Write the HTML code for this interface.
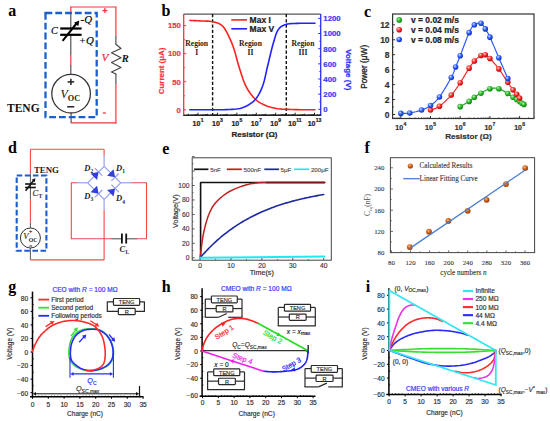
<!DOCTYPE html>
<html><head><meta charset="utf-8"><style>
html,body{margin:0;padding:0;background:#fff;width:550px;height:421px;overflow:hidden;}
svg{display:block;}
</style></head><body>
<svg width="550" height="421" viewBox="0 0 550 421">
<defs>
<radialGradient id="gG" cx="0.38" cy="0.35" r="0.7"><stop offset="0" stop-color="#b8f0b0"/><stop offset="0.45" stop-color="#2dbb2d"/><stop offset="1" stop-color="#0c7a0c"/></radialGradient>
<radialGradient id="gR" cx="0.38" cy="0.35" r="0.7"><stop offset="0" stop-color="#ffd0d0"/><stop offset="0.45" stop-color="#ff3030"/><stop offset="1" stop-color="#b00000"/></radialGradient>
<radialGradient id="gB" cx="0.38" cy="0.35" r="0.7"><stop offset="0" stop-color="#d0dcff"/><stop offset="0.45" stop-color="#3060ff"/><stop offset="1" stop-color="#0a2bb0"/></radialGradient>
<radialGradient id="gO" cx="0.4" cy="0.35" r="0.7"><stop offset="0" stop-color="#f7c08a"/><stop offset="0.4" stop-color="#d8691c"/><stop offset="1" stop-color="#8a3606"/></radialGradient>
</defs>
<rect x="0" y="0" width="550" height="421" fill="#fff"/>
<text x="8.30" y="16.00" font-family='"Liberation Serif", serif' font-size="16" font-weight="bold" font-style="normal" fill="#000" text-anchor="start" >a</text>
<line x1="70.80" y1="7.00" x2="115.90" y2="7.00" stroke="#f0393b" stroke-width="1.2" />
<line x1="70.80" y1="6.40" x2="70.80" y2="12.00" stroke="#f0393b" stroke-width="1.2" />
<line x1="70.80" y1="12.00" x2="70.80" y2="28.60" stroke="#444" stroke-width="1.1" />
<line x1="70.80" y1="34.30" x2="70.80" y2="55.00" stroke="#444" stroke-width="1.1" />
<line x1="70.80" y1="55.00" x2="70.80" y2="66.00" stroke="#f0393b" stroke-width="1.2" />
<line x1="70.80" y1="65.50" x2="70.80" y2="74.40" stroke="#444" stroke-width="1.1" />
<line x1="115.90" y1="6.40" x2="115.90" y2="35.70" stroke="#f0393b" stroke-width="1.2" />
<line x1="115.90" y1="35.70" x2="115.90" y2="44.20" stroke="#444" stroke-width="1.1" />
<polyline points="115.90,44.20 121.00,48.50 111.50,52.80 121.00,57.80 111.50,62.50 121.00,67.50 111.50,72.00 115.90,74.00" fill="none" stroke="#444" stroke-width="1.2" stroke-linejoin="round" stroke-linecap="round" />
<line x1="115.90" y1="74.00" x2="115.90" y2="84.00" stroke="#444" stroke-width="1.1" />
<line x1="115.90" y1="84.00" x2="115.90" y2="123.40" stroke="#f0393b" stroke-width="1.2" />
<line x1="70.80" y1="122.80" x2="116.50" y2="122.80" stroke="#f0393b" stroke-width="1.2" />
<line x1="71.10" y1="113.00" x2="71.10" y2="122.80" stroke="#444" stroke-width="1.1" />
<rect x="45.50" y="13.00" width="51.20" height="104.10" fill="none" stroke="#1b5fcf" stroke-width="2.3" stroke-dasharray="6.8 3"/>
<line x1="60.20" y1="28.50" x2="81.60" y2="28.50" stroke="#000" stroke-width="2.2" />
<line x1="60.20" y1="34.80" x2="81.60" y2="34.80" stroke="#000" stroke-width="2.2" />
<line x1="62.60" y1="40.80" x2="76.50" y2="23.50" stroke="#000" stroke-width="2.0" />
<polygon points="79.30,20.60 78.35,26.25 73.99,22.74" fill="#000"/>
<text x="51.00" y="33.90" font-family='"Liberation Serif", serif' font-size="10.2" font-weight="normal" font-style="italic" fill="#000" text-anchor="start" stroke="#000" stroke-width="0.18" >C</text>
<text x="80.60" y="23.00" font-family='"Liberation Serif", serif' font-size="10.8" font-weight="normal" font-style="italic" fill="#000" text-anchor="start" stroke="#000" stroke-width="0.18" >-Q</text>
<text x="78.80" y="44.20" font-family='"Liberation Serif", serif' font-size="10.8" font-weight="normal" font-style="italic" fill="#000" text-anchor="start" stroke="#000" stroke-width="0.18" >+Q</text>
<circle cx="71.10" cy="93.70" r="19.30" fill="none" stroke="#333" stroke-width="1.25" />
<line x1="67.60" y1="81.90" x2="74.20" y2="81.90" stroke="#222" stroke-width="1.5" />
<line x1="70.90" y1="78.70" x2="70.90" y2="85.10" stroke="#222" stroke-width="1.5" />
<line x1="67.20" y1="106.80" x2="74.30" y2="106.80" stroke="#222" stroke-width="1.5" />
<text x="60.60" y="97.50" font-family='"Liberation Serif", serif' font-size="12.0" font-weight="normal" font-style="italic" fill="#222" text-anchor="start" stroke="#222" stroke-width="0.12" >V</text>
<text x="67.80" y="100.70" font-family='"Liberation Serif", serif' font-size="8.2" font-weight="bold" font-style="normal" fill="#222" text-anchor="start" >OC</text>
<text x="7.00" y="112.30" font-family='"Liberation Serif", serif' font-size="11.5" font-weight="bold" font-style="normal" fill="#111" text-anchor="start" >TENG</text>
<line x1="102.40" y1="10.60" x2="107.40" y2="10.60" stroke="#f0393b" stroke-width="1.3" />
<line x1="104.90" y1="8.10" x2="104.90" y2="13.10" stroke="#f0393b" stroke-width="1.3" />
<line x1="102.80" y1="113.00" x2="105.90" y2="113.00" stroke="#f0393b" stroke-width="1.3" />
<text x="101.40" y="61.30" font-family='"Liberation Serif", serif' font-size="11.3" font-weight="normal" font-style="italic" fill="#f0393b" text-anchor="start" stroke="#f0393b" stroke-width="0.25" >V</text>
<text x="121.80" y="62.30" font-family='"Liberation Serif", serif' font-size="10.5" font-weight="bold" font-style="italic" fill="#111" text-anchor="start" >R</text>
<text x="161.40" y="16.00" font-family='"Liberation Serif", serif' font-size="16" font-weight="bold" font-style="normal" fill="#000" text-anchor="start" >b</text>
<line x1="183.70" y1="14.10" x2="320.70" y2="14.10" stroke="#555" stroke-width="1.2" />
<line x1="183.10" y1="115.20" x2="321.30" y2="115.20" stroke="#222" stroke-width="1.4" />
<line x1="183.70" y1="14.10" x2="183.70" y2="115.20" stroke="#f0393b" stroke-width="1.3" />
<line x1="320.70" y1="14.10" x2="320.70" y2="115.20" stroke="#2d2dff" stroke-width="1.3" />
<line x1="183.70" y1="109.80" x2="186.20" y2="109.80" stroke="#f0393b" stroke-width="1" />
<text x="180.90" y="112.60" font-family='"Liberation Sans", sans-serif' font-size="7.8" font-weight="bold" font-style="normal" fill="#f0393b" text-anchor="end" stroke="#f0393b" stroke-width="0.22" >0</text>
<line x1="183.70" y1="81.73" x2="186.20" y2="81.73" stroke="#f0393b" stroke-width="1" />
<text x="180.90" y="84.53" font-family='"Liberation Sans", sans-serif' font-size="7.8" font-weight="bold" font-style="normal" fill="#f0393b" text-anchor="end" stroke="#f0393b" stroke-width="0.22" >50</text>
<line x1="183.70" y1="53.67" x2="186.20" y2="53.67" stroke="#f0393b" stroke-width="1" />
<text x="180.90" y="56.47" font-family='"Liberation Sans", sans-serif' font-size="7.8" font-weight="bold" font-style="normal" fill="#f0393b" text-anchor="end" stroke="#f0393b" stroke-width="0.22" >100</text>
<line x1="183.70" y1="25.60" x2="186.20" y2="25.60" stroke="#f0393b" stroke-width="1" />
<text x="180.90" y="28.40" font-family='"Liberation Sans", sans-serif' font-size="7.8" font-weight="bold" font-style="normal" fill="#f0393b" text-anchor="end" stroke="#f0393b" stroke-width="0.22" >150</text>
<line x1="183.70" y1="95.77" x2="185.20" y2="95.77" stroke="#f0393b" stroke-width="0.8" />
<line x1="183.70" y1="67.70" x2="185.20" y2="67.70" stroke="#f0393b" stroke-width="0.8" />
<line x1="183.70" y1="39.64" x2="185.20" y2="39.64" stroke="#f0393b" stroke-width="0.8" />
<line x1="318.20" y1="109.30" x2="320.70" y2="109.30" stroke="#2d2dff" stroke-width="1" />
<text x="323.30" y="112.10" font-family='"Liberation Sans", sans-serif' font-size="7.8" font-weight="bold" font-style="normal" fill="#3a3aff" text-anchor="start" stroke="#3a3aff" stroke-width="0.22" >0</text>
<line x1="318.20" y1="94.15" x2="320.70" y2="94.15" stroke="#2d2dff" stroke-width="1" />
<text x="323.30" y="96.95" font-family='"Liberation Sans", sans-serif' font-size="7.8" font-weight="bold" font-style="normal" fill="#3a3aff" text-anchor="start" stroke="#3a3aff" stroke-width="0.22" >200</text>
<line x1="318.20" y1="79.00" x2="320.70" y2="79.00" stroke="#2d2dff" stroke-width="1" />
<text x="323.30" y="81.80" font-family='"Liberation Sans", sans-serif' font-size="7.8" font-weight="bold" font-style="normal" fill="#3a3aff" text-anchor="start" stroke="#3a3aff" stroke-width="0.22" >400</text>
<line x1="318.20" y1="63.85" x2="320.70" y2="63.85" stroke="#2d2dff" stroke-width="1" />
<text x="323.30" y="66.65" font-family='"Liberation Sans", sans-serif' font-size="7.8" font-weight="bold" font-style="normal" fill="#3a3aff" text-anchor="start" stroke="#3a3aff" stroke-width="0.22" >600</text>
<line x1="318.20" y1="48.70" x2="320.70" y2="48.70" stroke="#2d2dff" stroke-width="1" />
<text x="323.30" y="51.50" font-family='"Liberation Sans", sans-serif' font-size="7.8" font-weight="bold" font-style="normal" fill="#3a3aff" text-anchor="start" stroke="#3a3aff" stroke-width="0.22" >800</text>
<line x1="318.20" y1="33.55" x2="320.70" y2="33.55" stroke="#2d2dff" stroke-width="1" />
<text x="323.30" y="36.35" font-family='"Liberation Sans", sans-serif' font-size="7.8" font-weight="bold" font-style="normal" fill="#3a3aff" text-anchor="start" stroke="#3a3aff" stroke-width="0.22" >1000</text>
<line x1="318.20" y1="18.40" x2="320.70" y2="18.40" stroke="#2d2dff" stroke-width="1" />
<text x="323.30" y="21.20" font-family='"Liberation Sans", sans-serif' font-size="7.8" font-weight="bold" font-style="normal" fill="#3a3aff" text-anchor="start" stroke="#3a3aff" stroke-width="0.22" >1200</text>
<line x1="319.20" y1="101.72" x2="320.70" y2="101.72" stroke="#2d2dff" stroke-width="0.8" />
<line x1="319.20" y1="86.58" x2="320.70" y2="86.58" stroke="#2d2dff" stroke-width="0.8" />
<line x1="319.20" y1="71.42" x2="320.70" y2="71.42" stroke="#2d2dff" stroke-width="0.8" />
<line x1="319.20" y1="56.27" x2="320.70" y2="56.27" stroke="#2d2dff" stroke-width="0.8" />
<line x1="319.20" y1="41.12" x2="320.70" y2="41.12" stroke="#2d2dff" stroke-width="0.8" />
<line x1="319.20" y1="25.97" x2="320.70" y2="25.97" stroke="#2d2dff" stroke-width="0.8" />
<line x1="188.30" y1="115.20" x2="188.30" y2="113.70" stroke="#222" stroke-width="1" />
<line x1="191.22" y1="115.20" x2="191.22" y2="114.00" stroke="#222" stroke-width="0.6" />
<line x1="192.93" y1="115.20" x2="192.93" y2="114.00" stroke="#222" stroke-width="0.6" />
<line x1="194.15" y1="115.20" x2="194.15" y2="114.00" stroke="#222" stroke-width="0.6" />
<line x1="195.09" y1="115.20" x2="195.09" y2="114.00" stroke="#222" stroke-width="0.6" />
<line x1="195.86" y1="115.20" x2="195.86" y2="114.00" stroke="#222" stroke-width="0.6" />
<line x1="196.51" y1="115.20" x2="196.51" y2="114.00" stroke="#222" stroke-width="0.6" />
<line x1="197.07" y1="115.20" x2="197.07" y2="114.00" stroke="#222" stroke-width="0.6" />
<line x1="197.57" y1="115.20" x2="197.57" y2="114.00" stroke="#222" stroke-width="0.6" />
<line x1="198.01" y1="115.20" x2="198.01" y2="112.70" stroke="#222" stroke-width="1" />
<line x1="200.93" y1="115.20" x2="200.93" y2="114.00" stroke="#222" stroke-width="0.6" />
<line x1="202.64" y1="115.20" x2="202.64" y2="114.00" stroke="#222" stroke-width="0.6" />
<line x1="203.86" y1="115.20" x2="203.86" y2="114.00" stroke="#222" stroke-width="0.6" />
<line x1="204.80" y1="115.20" x2="204.80" y2="114.00" stroke="#222" stroke-width="0.6" />
<line x1="205.57" y1="115.20" x2="205.57" y2="114.00" stroke="#222" stroke-width="0.6" />
<line x1="206.22" y1="115.20" x2="206.22" y2="114.00" stroke="#222" stroke-width="0.6" />
<line x1="206.78" y1="115.20" x2="206.78" y2="114.00" stroke="#222" stroke-width="0.6" />
<line x1="207.28" y1="115.20" x2="207.28" y2="114.00" stroke="#222" stroke-width="0.6" />
<line x1="207.72" y1="115.20" x2="207.72" y2="113.70" stroke="#222" stroke-width="1" />
<line x1="210.64" y1="115.20" x2="210.64" y2="114.00" stroke="#222" stroke-width="0.6" />
<line x1="212.35" y1="115.20" x2="212.35" y2="114.00" stroke="#222" stroke-width="0.6" />
<line x1="213.57" y1="115.20" x2="213.57" y2="114.00" stroke="#222" stroke-width="0.6" />
<line x1="214.51" y1="115.20" x2="214.51" y2="114.00" stroke="#222" stroke-width="0.6" />
<line x1="215.28" y1="115.20" x2="215.28" y2="114.00" stroke="#222" stroke-width="0.6" />
<line x1="215.93" y1="115.20" x2="215.93" y2="114.00" stroke="#222" stroke-width="0.6" />
<line x1="216.49" y1="115.20" x2="216.49" y2="114.00" stroke="#222" stroke-width="0.6" />
<line x1="216.99" y1="115.20" x2="216.99" y2="114.00" stroke="#222" stroke-width="0.6" />
<line x1="217.43" y1="115.20" x2="217.43" y2="112.70" stroke="#222" stroke-width="1" />
<line x1="220.35" y1="115.20" x2="220.35" y2="114.00" stroke="#222" stroke-width="0.6" />
<line x1="222.06" y1="115.20" x2="222.06" y2="114.00" stroke="#222" stroke-width="0.6" />
<line x1="223.28" y1="115.20" x2="223.28" y2="114.00" stroke="#222" stroke-width="0.6" />
<line x1="224.22" y1="115.20" x2="224.22" y2="114.00" stroke="#222" stroke-width="0.6" />
<line x1="224.99" y1="115.20" x2="224.99" y2="114.00" stroke="#222" stroke-width="0.6" />
<line x1="225.64" y1="115.20" x2="225.64" y2="114.00" stroke="#222" stroke-width="0.6" />
<line x1="226.20" y1="115.20" x2="226.20" y2="114.00" stroke="#222" stroke-width="0.6" />
<line x1="226.70" y1="115.20" x2="226.70" y2="114.00" stroke="#222" stroke-width="0.6" />
<line x1="227.14" y1="115.20" x2="227.14" y2="113.70" stroke="#222" stroke-width="1" />
<line x1="230.06" y1="115.20" x2="230.06" y2="114.00" stroke="#222" stroke-width="0.6" />
<line x1="231.77" y1="115.20" x2="231.77" y2="114.00" stroke="#222" stroke-width="0.6" />
<line x1="232.99" y1="115.20" x2="232.99" y2="114.00" stroke="#222" stroke-width="0.6" />
<line x1="233.93" y1="115.20" x2="233.93" y2="114.00" stroke="#222" stroke-width="0.6" />
<line x1="234.70" y1="115.20" x2="234.70" y2="114.00" stroke="#222" stroke-width="0.6" />
<line x1="235.35" y1="115.20" x2="235.35" y2="114.00" stroke="#222" stroke-width="0.6" />
<line x1="235.91" y1="115.20" x2="235.91" y2="114.00" stroke="#222" stroke-width="0.6" />
<line x1="236.41" y1="115.20" x2="236.41" y2="114.00" stroke="#222" stroke-width="0.6" />
<line x1="236.85" y1="115.20" x2="236.85" y2="112.70" stroke="#222" stroke-width="1" />
<line x1="239.77" y1="115.20" x2="239.77" y2="114.00" stroke="#222" stroke-width="0.6" />
<line x1="241.48" y1="115.20" x2="241.48" y2="114.00" stroke="#222" stroke-width="0.6" />
<line x1="242.70" y1="115.20" x2="242.70" y2="114.00" stroke="#222" stroke-width="0.6" />
<line x1="243.64" y1="115.20" x2="243.64" y2="114.00" stroke="#222" stroke-width="0.6" />
<line x1="244.41" y1="115.20" x2="244.41" y2="114.00" stroke="#222" stroke-width="0.6" />
<line x1="245.06" y1="115.20" x2="245.06" y2="114.00" stroke="#222" stroke-width="0.6" />
<line x1="245.62" y1="115.20" x2="245.62" y2="114.00" stroke="#222" stroke-width="0.6" />
<line x1="246.12" y1="115.20" x2="246.12" y2="114.00" stroke="#222" stroke-width="0.6" />
<line x1="246.56" y1="115.20" x2="246.56" y2="113.70" stroke="#222" stroke-width="1" />
<line x1="249.48" y1="115.20" x2="249.48" y2="114.00" stroke="#222" stroke-width="0.6" />
<line x1="251.19" y1="115.20" x2="251.19" y2="114.00" stroke="#222" stroke-width="0.6" />
<line x1="252.41" y1="115.20" x2="252.41" y2="114.00" stroke="#222" stroke-width="0.6" />
<line x1="253.35" y1="115.20" x2="253.35" y2="114.00" stroke="#222" stroke-width="0.6" />
<line x1="254.12" y1="115.20" x2="254.12" y2="114.00" stroke="#222" stroke-width="0.6" />
<line x1="254.77" y1="115.20" x2="254.77" y2="114.00" stroke="#222" stroke-width="0.6" />
<line x1="255.33" y1="115.20" x2="255.33" y2="114.00" stroke="#222" stroke-width="0.6" />
<line x1="255.83" y1="115.20" x2="255.83" y2="114.00" stroke="#222" stroke-width="0.6" />
<line x1="256.27" y1="115.20" x2="256.27" y2="112.70" stroke="#222" stroke-width="1" />
<line x1="259.19" y1="115.20" x2="259.19" y2="114.00" stroke="#222" stroke-width="0.6" />
<line x1="260.90" y1="115.20" x2="260.90" y2="114.00" stroke="#222" stroke-width="0.6" />
<line x1="262.12" y1="115.20" x2="262.12" y2="114.00" stroke="#222" stroke-width="0.6" />
<line x1="263.06" y1="115.20" x2="263.06" y2="114.00" stroke="#222" stroke-width="0.6" />
<line x1="263.83" y1="115.20" x2="263.83" y2="114.00" stroke="#222" stroke-width="0.6" />
<line x1="264.48" y1="115.20" x2="264.48" y2="114.00" stroke="#222" stroke-width="0.6" />
<line x1="265.04" y1="115.20" x2="265.04" y2="114.00" stroke="#222" stroke-width="0.6" />
<line x1="265.54" y1="115.20" x2="265.54" y2="114.00" stroke="#222" stroke-width="0.6" />
<line x1="265.98" y1="115.20" x2="265.98" y2="113.70" stroke="#222" stroke-width="1" />
<line x1="268.90" y1="115.20" x2="268.90" y2="114.00" stroke="#222" stroke-width="0.6" />
<line x1="270.61" y1="115.20" x2="270.61" y2="114.00" stroke="#222" stroke-width="0.6" />
<line x1="271.83" y1="115.20" x2="271.83" y2="114.00" stroke="#222" stroke-width="0.6" />
<line x1="272.77" y1="115.20" x2="272.77" y2="114.00" stroke="#222" stroke-width="0.6" />
<line x1="273.54" y1="115.20" x2="273.54" y2="114.00" stroke="#222" stroke-width="0.6" />
<line x1="274.19" y1="115.20" x2="274.19" y2="114.00" stroke="#222" stroke-width="0.6" />
<line x1="274.75" y1="115.20" x2="274.75" y2="114.00" stroke="#222" stroke-width="0.6" />
<line x1="275.25" y1="115.20" x2="275.25" y2="114.00" stroke="#222" stroke-width="0.6" />
<line x1="275.69" y1="115.20" x2="275.69" y2="112.70" stroke="#222" stroke-width="1" />
<line x1="278.61" y1="115.20" x2="278.61" y2="114.00" stroke="#222" stroke-width="0.6" />
<line x1="280.32" y1="115.20" x2="280.32" y2="114.00" stroke="#222" stroke-width="0.6" />
<line x1="281.54" y1="115.20" x2="281.54" y2="114.00" stroke="#222" stroke-width="0.6" />
<line x1="282.48" y1="115.20" x2="282.48" y2="114.00" stroke="#222" stroke-width="0.6" />
<line x1="283.25" y1="115.20" x2="283.25" y2="114.00" stroke="#222" stroke-width="0.6" />
<line x1="283.90" y1="115.20" x2="283.90" y2="114.00" stroke="#222" stroke-width="0.6" />
<line x1="284.46" y1="115.20" x2="284.46" y2="114.00" stroke="#222" stroke-width="0.6" />
<line x1="284.96" y1="115.20" x2="284.96" y2="114.00" stroke="#222" stroke-width="0.6" />
<line x1="285.40" y1="115.20" x2="285.40" y2="113.70" stroke="#222" stroke-width="1" />
<line x1="288.32" y1="115.20" x2="288.32" y2="114.00" stroke="#222" stroke-width="0.6" />
<line x1="290.03" y1="115.20" x2="290.03" y2="114.00" stroke="#222" stroke-width="0.6" />
<line x1="291.25" y1="115.20" x2="291.25" y2="114.00" stroke="#222" stroke-width="0.6" />
<line x1="292.19" y1="115.20" x2="292.19" y2="114.00" stroke="#222" stroke-width="0.6" />
<line x1="292.96" y1="115.20" x2="292.96" y2="114.00" stroke="#222" stroke-width="0.6" />
<line x1="293.61" y1="115.20" x2="293.61" y2="114.00" stroke="#222" stroke-width="0.6" />
<line x1="294.17" y1="115.20" x2="294.17" y2="114.00" stroke="#222" stroke-width="0.6" />
<line x1="294.67" y1="115.20" x2="294.67" y2="114.00" stroke="#222" stroke-width="0.6" />
<line x1="295.11" y1="115.20" x2="295.11" y2="112.70" stroke="#222" stroke-width="1" />
<line x1="298.03" y1="115.20" x2="298.03" y2="114.00" stroke="#222" stroke-width="0.6" />
<line x1="299.74" y1="115.20" x2="299.74" y2="114.00" stroke="#222" stroke-width="0.6" />
<line x1="300.96" y1="115.20" x2="300.96" y2="114.00" stroke="#222" stroke-width="0.6" />
<line x1="301.90" y1="115.20" x2="301.90" y2="114.00" stroke="#222" stroke-width="0.6" />
<line x1="302.67" y1="115.20" x2="302.67" y2="114.00" stroke="#222" stroke-width="0.6" />
<line x1="303.32" y1="115.20" x2="303.32" y2="114.00" stroke="#222" stroke-width="0.6" />
<line x1="303.88" y1="115.20" x2="303.88" y2="114.00" stroke="#222" stroke-width="0.6" />
<line x1="304.38" y1="115.20" x2="304.38" y2="114.00" stroke="#222" stroke-width="0.6" />
<line x1="304.82" y1="115.20" x2="304.82" y2="113.70" stroke="#222" stroke-width="1" />
<line x1="307.74" y1="115.20" x2="307.74" y2="114.00" stroke="#222" stroke-width="0.6" />
<line x1="309.45" y1="115.20" x2="309.45" y2="114.00" stroke="#222" stroke-width="0.6" />
<line x1="310.67" y1="115.20" x2="310.67" y2="114.00" stroke="#222" stroke-width="0.6" />
<line x1="311.61" y1="115.20" x2="311.61" y2="114.00" stroke="#222" stroke-width="0.6" />
<line x1="312.38" y1="115.20" x2="312.38" y2="114.00" stroke="#222" stroke-width="0.6" />
<line x1="313.03" y1="115.20" x2="313.03" y2="114.00" stroke="#222" stroke-width="0.6" />
<line x1="313.59" y1="115.20" x2="313.59" y2="114.00" stroke="#222" stroke-width="0.6" />
<line x1="314.09" y1="115.20" x2="314.09" y2="114.00" stroke="#222" stroke-width="0.6" />
<line x1="314.53" y1="115.20" x2="314.53" y2="112.70" stroke="#222" stroke-width="1" />
<line x1="317.45" y1="115.20" x2="317.45" y2="114.00" stroke="#222" stroke-width="0.6" />
<line x1="319.16" y1="115.20" x2="319.16" y2="114.00" stroke="#222" stroke-width="0.6" />
<line x1="320.38" y1="115.20" x2="320.38" y2="114.00" stroke="#222" stroke-width="0.6" />
<text x="192.58" y="126.20" font-family='"Liberation Sans", sans-serif' font-size="7.0" font-weight="bold" font-style="normal" fill="#222" text-anchor="start" stroke="#222" stroke-width="0.22" >10</text>
<text x="200.66" y="122.40" font-family='"Liberation Sans", sans-serif' font-size="5.0" font-weight="bold" font-style="normal" fill="#222" text-anchor="start" stroke="#222" stroke-width="0.22" >1</text>
<text x="212.00" y="126.20" font-family='"Liberation Sans", sans-serif' font-size="7.0" font-weight="bold" font-style="normal" fill="#222" text-anchor="start" stroke="#222" stroke-width="0.22" >10</text>
<text x="220.08" y="122.40" font-family='"Liberation Sans", sans-serif' font-size="5.0" font-weight="bold" font-style="normal" fill="#222" text-anchor="start" stroke="#222" stroke-width="0.22" >3</text>
<text x="231.42" y="126.20" font-family='"Liberation Sans", sans-serif' font-size="7.0" font-weight="bold" font-style="normal" fill="#222" text-anchor="start" stroke="#222" stroke-width="0.22" >10</text>
<text x="239.50" y="122.40" font-family='"Liberation Sans", sans-serif' font-size="5.0" font-weight="bold" font-style="normal" fill="#222" text-anchor="start" stroke="#222" stroke-width="0.22" >5</text>
<text x="250.84" y="126.20" font-family='"Liberation Sans", sans-serif' font-size="7.0" font-weight="bold" font-style="normal" fill="#222" text-anchor="start" stroke="#222" stroke-width="0.22" >10</text>
<text x="258.92" y="122.40" font-family='"Liberation Sans", sans-serif' font-size="5.0" font-weight="bold" font-style="normal" fill="#222" text-anchor="start" stroke="#222" stroke-width="0.22" >7</text>
<text x="270.26" y="126.20" font-family='"Liberation Sans", sans-serif' font-size="7.0" font-weight="bold" font-style="normal" fill="#222" text-anchor="start" stroke="#222" stroke-width="0.22" >10</text>
<text x="278.34" y="122.40" font-family='"Liberation Sans", sans-serif' font-size="5.0" font-weight="bold" font-style="normal" fill="#222" text-anchor="start" stroke="#222" stroke-width="0.22" >9</text>
<text x="288.29" y="126.20" font-family='"Liberation Sans", sans-serif' font-size="7.0" font-weight="bold" font-style="normal" fill="#222" text-anchor="start" stroke="#222" stroke-width="0.22" >10</text>
<text x="296.37" y="122.40" font-family='"Liberation Sans", sans-serif' font-size="5.0" font-weight="bold" font-style="normal" fill="#222" text-anchor="start" stroke="#222" stroke-width="0.22" >11</text>
<text x="307.71" y="126.20" font-family='"Liberation Sans", sans-serif' font-size="7.0" font-weight="bold" font-style="normal" fill="#222" text-anchor="start" stroke="#222" stroke-width="0.22" >10</text>
<text x="315.79" y="122.40" font-family='"Liberation Sans", sans-serif' font-size="5.0" font-weight="bold" font-style="normal" fill="#222" text-anchor="start" stroke="#222" stroke-width="0.22" >13</text>
<text x="254.50" y="136.60" font-family='"Liberation Sans", sans-serif' font-size="8.0" font-weight="bold" font-style="normal" fill="#222" text-anchor="middle" stroke="#222" stroke-width="0.22" >Resistor (Ω)</text>
<text x="163.80" y="70.90" font-family='"Liberation Sans", sans-serif' font-size="7.9" font-weight="bold" font-style="normal" fill="#f0393b" text-anchor="middle" transform="rotate(-90 163.8 70.9)" stroke="#f0393b" stroke-width="0.22" >Current (μA)</text>
<text x="346.40" y="69.80" font-family='"Liberation Sans", sans-serif' font-size="8.0" font-weight="bold" font-style="normal" fill="#3030ff" text-anchor="middle" transform="rotate(90 346.4 69.8)" stroke="#3030ff" stroke-width="0.22" >Voltage (V)</text>
<line x1="212.60" y1="14.10" x2="212.60" y2="115.20" stroke="#111" stroke-width="1.4" stroke-dasharray="3.2 2"/>
<line x1="286.30" y1="14.10" x2="286.30" y2="115.20" stroke="#111" stroke-width="1.4" stroke-dasharray="3.2 2"/>
<polyline points="190.00,20.40 190.75,20.44 191.74,20.48 192.91,20.54 194.22,20.60 195.63,20.67 197.09,20.74 198.56,20.82 200.00,20.90 201.46,20.96 203.01,21.00 204.63,21.04 206.27,21.08 207.91,21.15 209.51,21.27 211.05,21.44 212.50,21.70 213.87,22.00 215.20,22.32 216.48,22.68 217.72,23.10 218.92,23.59 220.07,24.17 221.16,24.87 222.20,25.70 223.17,26.68 224.08,27.79 224.92,29.01 225.72,30.33 226.49,31.72 227.23,33.16 227.97,34.63 228.70,36.10 229.42,37.57 230.11,39.07 230.78,40.59 231.43,42.16 232.07,43.80 232.71,45.50 233.35,47.30 234.00,49.20 234.65,51.23 235.28,53.39 235.90,55.65 236.53,57.98 237.16,60.34 237.81,62.72 238.49,65.09 239.20,67.40 239.93,69.72 240.67,72.09 241.43,74.48 242.21,76.87 243.01,79.21 243.86,81.49 244.75,83.66 245.70,85.70 246.70,87.63 247.76,89.50 248.86,91.28 250.00,92.99 251.17,94.60 252.37,96.11 253.58,97.51 254.80,98.80 256.03,99.95 257.27,100.96 258.53,101.86 259.81,102.66 261.12,103.38 262.47,104.05 263.86,104.68 265.30,105.30 266.78,105.89 268.29,106.43 269.83,106.91 271.41,107.35 273.04,107.74 274.73,108.10 276.48,108.42 278.30,108.70 280.19,108.94 282.14,109.12 284.15,109.25 286.21,109.35 288.33,109.42 290.51,109.48 292.73,109.54 295.00,109.60 297.48,109.66 300.24,109.70 303.14,109.74 306.04,109.76 308.82,109.77 311.33,109.78 313.43,109.79 315.00,109.80" fill="none" stroke="#ff2020" stroke-width="1.6" stroke-linejoin="round" stroke-linecap="round" />
<polyline points="189.80,109.80 191.39,109.80 193.53,109.80 196.08,109.81 198.90,109.81 201.84,109.81 204.77,109.81 207.54,109.81 210.00,109.80 212.20,109.79 214.30,109.80 216.32,109.81 218.28,109.81 220.20,109.79 222.11,109.76 224.04,109.70 226.00,109.60 228.00,109.50 230.03,109.43 232.06,109.34 234.09,109.23 236.09,109.06 238.05,108.80 239.96,108.42 241.80,107.90 243.59,107.25 245.37,106.51 247.10,105.67 248.79,104.74 250.42,103.70 251.97,102.57 253.44,101.34 254.80,100.00 256.05,98.56 257.20,97.03 258.25,95.40 259.24,93.66 260.16,91.83 261.03,89.89 261.88,87.85 262.70,85.70 263.48,83.40 264.19,80.94 264.85,78.34 265.47,75.66 266.07,72.92 266.66,70.17 267.27,67.45 267.90,64.80 268.55,62.15 269.20,59.44 269.85,56.71 270.50,53.99 271.15,51.33 271.80,48.75 272.45,46.29 273.10,44.00 273.73,41.83 274.34,39.73 274.93,37.73 275.53,35.83 276.15,34.04 276.81,32.40 277.52,30.92 278.30,29.60 279.12,28.48 279.95,27.56 280.81,26.80 281.71,26.17 282.69,25.65 283.75,25.20 284.91,24.79 286.20,24.40 287.63,24.06 289.21,23.81 290.89,23.64 292.66,23.53 294.48,23.46 296.33,23.41 298.18,23.36 300.00,23.30 301.92,23.24 304.02,23.20 306.20,23.18 308.36,23.18 310.42,23.19 312.28,23.19 313.83,23.20 315.00,23.20" fill="none" stroke="#2222ff" stroke-width="1.6" stroke-linejoin="round" stroke-linecap="round" />
<line x1="231.30" y1="19.90" x2="247.00" y2="19.90" stroke="#ff2020" stroke-width="1.6" />
<text x="249.60" y="23.00" font-family='"Liberation Sans", sans-serif' font-size="8.5" font-weight="bold" font-style="normal" fill="#222" text-anchor="start" stroke="#222" stroke-width="0.22" >Max I</text>
<line x1="231.30" y1="28.80" x2="247.00" y2="28.80" stroke="#2222ff" stroke-width="1.6" />
<text x="249.60" y="31.90" font-family='"Liberation Sans", sans-serif' font-size="8.5" font-weight="bold" font-style="normal" fill="#222" text-anchor="start" stroke="#222" stroke-width="0.22" >Max V</text>
<text x="196.70" y="45.60" font-family='"Liberation Serif", serif' font-size="7.6" font-weight="bold" font-style="normal" fill="#222" text-anchor="middle" >Region</text>
<text x="196.70" y="54.60" font-family='"Liberation Serif", serif' font-size="7.6" font-weight="bold" font-style="normal" fill="#222" text-anchor="middle" >I</text>
<text x="250.50" y="45.60" font-family='"Liberation Serif", serif' font-size="7.6" font-weight="bold" font-style="normal" fill="#222" text-anchor="middle" >Region</text>
<text x="250.50" y="54.60" font-family='"Liberation Serif", serif' font-size="7.6" font-weight="bold" font-style="normal" fill="#222" text-anchor="middle" >II</text>
<text x="303.00" y="45.60" font-family='"Liberation Serif", serif' font-size="7.6" font-weight="bold" font-style="normal" fill="#222" text-anchor="middle" >Region</text>
<text x="303.00" y="54.60" font-family='"Liberation Serif", serif' font-size="7.6" font-weight="bold" font-style="normal" fill="#222" text-anchor="middle" >III</text>
<text x="364.00" y="16.60" font-family='"Liberation Serif", serif' font-size="16" font-weight="bold" font-style="normal" fill="#000" text-anchor="start" >c</text>
<rect x="392.60" y="14.00" width="141.40" height="104.50" fill="none" stroke="#333" stroke-width="1.2" />
<line x1="392.60" y1="114.50" x2="395.10" y2="114.50" stroke="#333" stroke-width="1" />
<text x="389.60" y="117.50" font-family='"Liberation Sans", sans-serif' font-size="8.5" font-weight="bold" font-style="normal" fill="#333" text-anchor="end" stroke="#333" stroke-width="0.22" >0</text>
<line x1="392.60" y1="99.55" x2="395.10" y2="99.55" stroke="#333" stroke-width="1" />
<text x="389.60" y="102.55" font-family='"Liberation Sans", sans-serif' font-size="8.5" font-weight="bold" font-style="normal" fill="#333" text-anchor="end" stroke="#333" stroke-width="0.22" >2</text>
<line x1="392.60" y1="84.60" x2="395.10" y2="84.60" stroke="#333" stroke-width="1" />
<text x="389.60" y="87.60" font-family='"Liberation Sans", sans-serif' font-size="8.5" font-weight="bold" font-style="normal" fill="#333" text-anchor="end" stroke="#333" stroke-width="0.22" >4</text>
<line x1="392.60" y1="69.65" x2="395.10" y2="69.65" stroke="#333" stroke-width="1" />
<text x="389.60" y="72.65" font-family='"Liberation Sans", sans-serif' font-size="8.5" font-weight="bold" font-style="normal" fill="#333" text-anchor="end" stroke="#333" stroke-width="0.22" >6</text>
<line x1="392.60" y1="54.70" x2="395.10" y2="54.70" stroke="#333" stroke-width="1" />
<text x="389.60" y="57.70" font-family='"Liberation Sans", sans-serif' font-size="8.5" font-weight="bold" font-style="normal" fill="#333" text-anchor="end" stroke="#333" stroke-width="0.22" >8</text>
<line x1="392.60" y1="39.75" x2="395.10" y2="39.75" stroke="#333" stroke-width="1" />
<text x="389.60" y="42.75" font-family='"Liberation Sans", sans-serif' font-size="8.5" font-weight="bold" font-style="normal" fill="#333" text-anchor="end" stroke="#333" stroke-width="0.22" >10</text>
<line x1="392.60" y1="24.80" x2="395.10" y2="24.80" stroke="#333" stroke-width="1" />
<text x="389.60" y="27.80" font-family='"Liberation Sans", sans-serif' font-size="8.5" font-weight="bold" font-style="normal" fill="#333" text-anchor="end" stroke="#333" stroke-width="0.22" >12</text>
<line x1="392.60" y1="107.03" x2="394.10" y2="107.03" stroke="#333" stroke-width="0.8" />
<line x1="392.60" y1="92.08" x2="394.10" y2="92.08" stroke="#333" stroke-width="0.8" />
<line x1="392.60" y1="77.12" x2="394.10" y2="77.12" stroke="#333" stroke-width="0.8" />
<line x1="392.60" y1="62.18" x2="394.10" y2="62.18" stroke="#333" stroke-width="0.8" />
<line x1="392.60" y1="47.23" x2="394.10" y2="47.23" stroke="#333" stroke-width="0.8" />
<line x1="392.60" y1="32.28" x2="394.10" y2="32.28" stroke="#333" stroke-width="0.8" />
<line x1="400.80" y1="118.50" x2="400.80" y2="116.00" stroke="#333" stroke-width="1" />
<text x="395.37" y="129.80" font-family='"Liberation Sans", sans-serif' font-size="7.0" font-weight="bold" font-style="normal" fill="#333" text-anchor="start" stroke="#333" stroke-width="0.22" >10</text>
<text x="403.45" y="126.00" font-family='"Liberation Sans", sans-serif' font-size="5.0" font-weight="bold" font-style="normal" fill="#333" text-anchor="start" stroke="#333" stroke-width="0.22" >4</text>
<line x1="430.50" y1="118.50" x2="430.50" y2="116.00" stroke="#333" stroke-width="1" />
<text x="425.07" y="129.80" font-family='"Liberation Sans", sans-serif' font-size="7.0" font-weight="bold" font-style="normal" fill="#333" text-anchor="start" stroke="#333" stroke-width="0.22" >10</text>
<text x="433.15" y="126.00" font-family='"Liberation Sans", sans-serif' font-size="5.0" font-weight="bold" font-style="normal" fill="#333" text-anchor="start" stroke="#333" stroke-width="0.22" >5</text>
<line x1="460.20" y1="118.50" x2="460.20" y2="116.00" stroke="#333" stroke-width="1" />
<text x="454.77" y="129.80" font-family='"Liberation Sans", sans-serif' font-size="7.0" font-weight="bold" font-style="normal" fill="#333" text-anchor="start" stroke="#333" stroke-width="0.22" >10</text>
<text x="462.85" y="126.00" font-family='"Liberation Sans", sans-serif' font-size="5.0" font-weight="bold" font-style="normal" fill="#333" text-anchor="start" stroke="#333" stroke-width="0.22" >6</text>
<line x1="489.90" y1="118.50" x2="489.90" y2="116.00" stroke="#333" stroke-width="1" />
<text x="484.47" y="129.80" font-family='"Liberation Sans", sans-serif' font-size="7.0" font-weight="bold" font-style="normal" fill="#333" text-anchor="start" stroke="#333" stroke-width="0.22" >10</text>
<text x="492.55" y="126.00" font-family='"Liberation Sans", sans-serif' font-size="5.0" font-weight="bold" font-style="normal" fill="#333" text-anchor="start" stroke="#333" stroke-width="0.22" >7</text>
<line x1="519.60" y1="118.50" x2="519.60" y2="116.00" stroke="#333" stroke-width="1" />
<text x="514.17" y="129.80" font-family='"Liberation Sans", sans-serif' font-size="7.0" font-weight="bold" font-style="normal" fill="#333" text-anchor="start" stroke="#333" stroke-width="0.22" >10</text>
<text x="522.25" y="126.00" font-family='"Liberation Sans", sans-serif' font-size="5.0" font-weight="bold" font-style="normal" fill="#333" text-anchor="start" stroke="#333" stroke-width="0.22" >8</text>
<line x1="394.21" y1="118.50" x2="394.21" y2="117.20" stroke="#333" stroke-width="0.6" />
<line x1="396.20" y1="118.50" x2="396.20" y2="117.20" stroke="#333" stroke-width="0.6" />
<line x1="397.92" y1="118.50" x2="397.92" y2="117.20" stroke="#333" stroke-width="0.6" />
<line x1="399.44" y1="118.50" x2="399.44" y2="117.20" stroke="#333" stroke-width="0.6" />
<line x1="409.74" y1="118.50" x2="409.74" y2="117.20" stroke="#333" stroke-width="0.6" />
<line x1="414.97" y1="118.50" x2="414.97" y2="117.20" stroke="#333" stroke-width="0.6" />
<line x1="418.68" y1="118.50" x2="418.68" y2="117.20" stroke="#333" stroke-width="0.6" />
<line x1="421.56" y1="118.50" x2="421.56" y2="117.20" stroke="#333" stroke-width="0.6" />
<line x1="423.91" y1="118.50" x2="423.91" y2="117.20" stroke="#333" stroke-width="0.6" />
<line x1="425.90" y1="118.50" x2="425.90" y2="117.20" stroke="#333" stroke-width="0.6" />
<line x1="427.62" y1="118.50" x2="427.62" y2="117.20" stroke="#333" stroke-width="0.6" />
<line x1="429.14" y1="118.50" x2="429.14" y2="117.20" stroke="#333" stroke-width="0.6" />
<line x1="439.44" y1="118.50" x2="439.44" y2="117.20" stroke="#333" stroke-width="0.6" />
<line x1="444.67" y1="118.50" x2="444.67" y2="117.20" stroke="#333" stroke-width="0.6" />
<line x1="448.38" y1="118.50" x2="448.38" y2="117.20" stroke="#333" stroke-width="0.6" />
<line x1="451.26" y1="118.50" x2="451.26" y2="117.20" stroke="#333" stroke-width="0.6" />
<line x1="453.61" y1="118.50" x2="453.61" y2="117.20" stroke="#333" stroke-width="0.6" />
<line x1="455.60" y1="118.50" x2="455.60" y2="117.20" stroke="#333" stroke-width="0.6" />
<line x1="457.32" y1="118.50" x2="457.32" y2="117.20" stroke="#333" stroke-width="0.6" />
<line x1="458.84" y1="118.50" x2="458.84" y2="117.20" stroke="#333" stroke-width="0.6" />
<line x1="469.14" y1="118.50" x2="469.14" y2="117.20" stroke="#333" stroke-width="0.6" />
<line x1="474.37" y1="118.50" x2="474.37" y2="117.20" stroke="#333" stroke-width="0.6" />
<line x1="478.08" y1="118.50" x2="478.08" y2="117.20" stroke="#333" stroke-width="0.6" />
<line x1="480.96" y1="118.50" x2="480.96" y2="117.20" stroke="#333" stroke-width="0.6" />
<line x1="483.31" y1="118.50" x2="483.31" y2="117.20" stroke="#333" stroke-width="0.6" />
<line x1="485.30" y1="118.50" x2="485.30" y2="117.20" stroke="#333" stroke-width="0.6" />
<line x1="487.02" y1="118.50" x2="487.02" y2="117.20" stroke="#333" stroke-width="0.6" />
<line x1="488.54" y1="118.50" x2="488.54" y2="117.20" stroke="#333" stroke-width="0.6" />
<line x1="498.84" y1="118.50" x2="498.84" y2="117.20" stroke="#333" stroke-width="0.6" />
<line x1="504.07" y1="118.50" x2="504.07" y2="117.20" stroke="#333" stroke-width="0.6" />
<line x1="507.78" y1="118.50" x2="507.78" y2="117.20" stroke="#333" stroke-width="0.6" />
<line x1="510.66" y1="118.50" x2="510.66" y2="117.20" stroke="#333" stroke-width="0.6" />
<line x1="513.01" y1="118.50" x2="513.01" y2="117.20" stroke="#333" stroke-width="0.6" />
<line x1="515.00" y1="118.50" x2="515.00" y2="117.20" stroke="#333" stroke-width="0.6" />
<line x1="516.72" y1="118.50" x2="516.72" y2="117.20" stroke="#333" stroke-width="0.6" />
<line x1="518.24" y1="118.50" x2="518.24" y2="117.20" stroke="#333" stroke-width="0.6" />
<line x1="528.54" y1="118.50" x2="528.54" y2="117.20" stroke="#333" stroke-width="0.6" />
<line x1="533.77" y1="118.50" x2="533.77" y2="117.20" stroke="#333" stroke-width="0.6" />
<text x="468.50" y="139.40" font-family='"Liberation Sans", sans-serif' font-size="8.1" font-weight="bold" font-style="normal" fill="#333" text-anchor="middle" stroke="#333" stroke-width="0.22" >Resistor (Ω)</text>
<text x="366.60" y="66.80" font-family='"Liberation Sans", sans-serif' font-size="8.3" font-weight="normal" font-style="normal" fill="#222" text-anchor="middle" transform="rotate(-90 366.6 66.8)" stroke="#222" stroke-width="0.3" >Power (μW)</text>
<polyline points="460.20,106.65 460.92,106.24 461.89,105.68 463.06,105.02 464.34,104.29 465.67,103.53 466.96,102.77 468.14,102.05 469.14,101.42 469.96,100.85 470.68,100.31 471.31,99.79 471.90,99.29 472.47,98.80 473.05,98.31 473.68,97.81 474.37,97.31 475.11,96.80 475.87,96.29 476.64,95.78 477.43,95.28 478.26,94.77 479.11,94.25 480.01,93.73 480.96,93.20 481.96,92.62 483.03,92.00 484.14,91.34 485.28,90.70 486.44,90.08 487.61,89.53 488.77,89.06 489.90,88.71 491.02,88.46 492.14,88.28 493.25,88.17 494.37,88.13 495.49,88.16 496.61,88.26 497.72,88.45 498.84,88.71 499.98,89.09 501.16,89.61 502.36,90.23 503.54,90.91 504.70,91.62 505.81,92.32 506.84,92.98 507.78,93.57 508.62,94.10 509.39,94.62 510.08,95.12 510.72,95.60 511.32,96.06 511.90,96.50 512.46,96.92 513.01,97.31 513.55,97.66 514.07,97.98 514.55,98.27 515.01,98.55 515.46,98.80 515.89,99.05 516.31,99.30 516.72,99.55 517.12,99.80 517.51,100.04 517.89,100.28 518.25,100.51 518.60,100.73 518.94,100.96 519.27,101.19 519.60,101.42 519.92,101.66 520.23,101.90 520.54,102.15 520.83,102.40 521.12,102.64 521.40,102.87 521.68,103.09 521.95,103.29 522.23,103.47 522.52,103.65 522.81,103.81 523.09,103.96 523.36,104.10 523.59,104.22 523.79,104.33 523.94,104.41" fill="none" stroke="#22aa22" stroke-width="1.2" stroke-linejoin="round" stroke-linecap="round" />
<polyline points="430.50,110.02 431.17,109.78 432.04,109.52 433.07,109.22 434.23,108.85 435.48,108.39 436.79,107.83 438.12,107.13 439.44,106.28 440.80,105.24 442.26,104.03 443.79,102.67 445.35,101.21 446.91,99.68 448.44,98.12 449.90,96.57 451.26,95.06 452.51,93.59 453.70,92.11 454.82,90.62 455.91,89.11 456.97,87.57 458.03,86.00 459.10,84.39 460.20,82.73 461.34,80.97 462.52,79.07 463.72,77.10 464.90,75.12 466.06,73.17 467.17,71.33 468.20,69.63 469.14,68.16 469.96,66.90 470.68,65.82 471.31,64.88 471.90,64.04 472.47,63.28 473.05,62.55 473.68,61.82 474.37,61.05 475.14,60.25 475.97,59.43 476.84,58.63 477.72,57.85 478.59,57.13 479.44,56.47 480.23,55.91 480.96,55.45 481.61,55.09 482.20,54.81 482.74,54.61 483.25,54.49 483.75,54.44 484.25,54.46 484.76,54.55 485.30,54.70 485.83,54.91 486.33,55.16 486.81,55.48 487.31,55.87 487.85,56.35 488.44,56.92 489.12,57.62 489.90,58.44 490.81,59.40 491.83,60.51 492.93,61.74 494.10,63.06 495.30,64.46 496.50,65.92 497.69,67.41 498.84,68.90 499.98,70.48 501.16,72.20 502.36,73.99 503.54,75.82 504.70,77.62 505.81,79.34 506.84,80.94 507.78,82.36 508.62,83.60 509.39,84.72 510.08,85.73 510.72,86.66 511.32,87.51 511.90,88.31 512.46,89.08 513.01,89.83 513.55,90.54 514.07,91.18 514.55,91.77 515.01,92.31 515.46,92.82 515.89,93.32 516.31,93.81 516.72,94.32 517.14,94.85 517.57,95.39 517.99,95.94 518.39,96.47 518.77,96.96 519.10,97.40 519.38,97.77 519.60,98.06" fill="none" stroke="#ff2a2a" stroke-width="1.2" stroke-linejoin="round" stroke-linecap="round" />
<polyline points="400.80,113.38 401.47,113.37 402.34,113.37 403.37,113.38 404.53,113.38 405.78,113.35 407.09,113.29 408.42,113.18 409.74,113.00 411.10,112.77 412.56,112.48 414.09,112.14 415.65,111.77 417.21,111.36 418.74,110.93 420.20,110.48 421.56,110.02 422.81,109.55 424.00,109.10 425.12,108.62 426.21,108.12 427.27,107.58 428.33,106.98 429.40,106.30 430.50,105.53 431.60,104.73 432.67,103.92 433.73,103.08 434.79,102.17 435.88,101.13 437.00,99.94 438.19,98.56 439.44,96.93 440.83,94.96 442.37,92.63 443.99,90.05 445.64,87.33 447.25,84.61 448.76,81.98 450.12,79.57 451.26,77.50 452.16,75.77 452.86,74.27 453.42,72.95 453.88,71.75 454.28,70.62 454.67,69.49 455.10,68.32 455.60,67.03 456.13,65.75 456.63,64.56 457.11,63.41 457.61,62.22 458.15,60.93 458.74,59.48 459.42,57.80 460.20,55.82 461.14,53.39 462.22,50.51 463.40,47.33 464.63,44.02 465.87,40.74 467.06,37.64 468.17,34.89 469.14,32.65 469.96,30.89 470.68,29.46 471.31,28.30 471.90,27.37 472.47,26.60 473.05,25.96 473.68,25.37 474.37,24.80 475.14,24.26 475.97,23.81 476.84,23.46 477.72,23.21 478.59,23.07 479.44,23.03 480.23,23.11 480.96,23.31 481.61,23.65 482.20,24.15 482.74,24.77 483.25,25.50 483.75,26.31 484.25,27.16 484.76,28.04 485.30,28.91 485.83,29.73 486.33,30.49 486.81,31.26 487.31,32.09 487.85,33.03 488.44,34.15 489.12,35.50 489.90,37.13 490.81,39.11 491.83,41.40 492.93,43.92 494.10,46.62 495.30,49.41 496.50,52.24 497.69,55.02 498.84,57.69 500.02,60.43 501.29,63.39 502.59,66.43 503.87,69.44 505.08,72.29 506.17,74.85 507.09,77.00 507.78,78.62" fill="none" stroke="#2f5cff" stroke-width="1.2" stroke-linejoin="round" stroke-linecap="round" />
<circle cx="460.20" cy="106.65" r="2.80" fill="url(#gG)" stroke="none" stroke-width="0" />
<circle cx="469.14" cy="101.42" r="2.80" fill="url(#gG)" stroke="none" stroke-width="0" />
<circle cx="474.37" cy="97.31" r="2.80" fill="url(#gG)" stroke="none" stroke-width="0" />
<circle cx="480.96" cy="93.20" r="2.80" fill="url(#gG)" stroke="none" stroke-width="0" />
<circle cx="489.90" cy="88.71" r="2.80" fill="url(#gG)" stroke="none" stroke-width="0" />
<circle cx="498.84" cy="88.71" r="2.80" fill="url(#gG)" stroke="none" stroke-width="0" />
<circle cx="507.78" cy="93.57" r="2.80" fill="url(#gG)" stroke="none" stroke-width="0" />
<circle cx="513.01" cy="97.31" r="2.80" fill="url(#gG)" stroke="none" stroke-width="0" />
<circle cx="516.72" cy="99.55" r="2.80" fill="url(#gG)" stroke="none" stroke-width="0" />
<circle cx="519.60" cy="101.42" r="2.80" fill="url(#gG)" stroke="none" stroke-width="0" />
<circle cx="521.95" cy="103.29" r="2.80" fill="url(#gG)" stroke="none" stroke-width="0" />
<circle cx="523.94" cy="104.41" r="2.80" fill="url(#gG)" stroke="none" stroke-width="0" />
<circle cx="430.50" cy="110.02" r="2.80" fill="url(#gR)" stroke="none" stroke-width="0" />
<circle cx="439.44" cy="106.28" r="2.80" fill="url(#gR)" stroke="none" stroke-width="0" />
<circle cx="451.26" cy="95.06" r="2.80" fill="url(#gR)" stroke="none" stroke-width="0" />
<circle cx="460.20" cy="82.73" r="2.80" fill="url(#gR)" stroke="none" stroke-width="0" />
<circle cx="469.14" cy="68.16" r="2.80" fill="url(#gR)" stroke="none" stroke-width="0" />
<circle cx="474.37" cy="61.05" r="2.80" fill="url(#gR)" stroke="none" stroke-width="0" />
<circle cx="480.96" cy="55.45" r="2.80" fill="url(#gR)" stroke="none" stroke-width="0" />
<circle cx="485.30" cy="54.70" r="2.80" fill="url(#gR)" stroke="none" stroke-width="0" />
<circle cx="489.90" cy="58.44" r="2.80" fill="url(#gR)" stroke="none" stroke-width="0" />
<circle cx="498.84" cy="68.90" r="2.80" fill="url(#gR)" stroke="none" stroke-width="0" />
<circle cx="507.78" cy="82.36" r="2.80" fill="url(#gR)" stroke="none" stroke-width="0" />
<circle cx="513.01" cy="89.83" r="2.80" fill="url(#gR)" stroke="none" stroke-width="0" />
<circle cx="516.72" cy="94.32" r="2.80" fill="url(#gR)" stroke="none" stroke-width="0" />
<circle cx="519.60" cy="98.06" r="2.80" fill="url(#gR)" stroke="none" stroke-width="0" />
<circle cx="400.80" cy="113.38" r="2.80" fill="url(#gB)" stroke="none" stroke-width="0" />
<circle cx="409.74" cy="113.00" r="2.80" fill="url(#gB)" stroke="none" stroke-width="0" />
<circle cx="421.56" cy="110.02" r="2.80" fill="url(#gB)" stroke="none" stroke-width="0" />
<circle cx="430.50" cy="105.53" r="2.80" fill="url(#gB)" stroke="none" stroke-width="0" />
<circle cx="439.44" cy="96.93" r="2.80" fill="url(#gB)" stroke="none" stroke-width="0" />
<circle cx="451.26" cy="77.50" r="2.80" fill="url(#gB)" stroke="none" stroke-width="0" />
<circle cx="455.60" cy="67.03" r="2.80" fill="url(#gB)" stroke="none" stroke-width="0" />
<circle cx="460.20" cy="55.82" r="2.80" fill="url(#gB)" stroke="none" stroke-width="0" />
<circle cx="469.14" cy="32.65" r="2.80" fill="url(#gB)" stroke="none" stroke-width="0" />
<circle cx="474.37" cy="24.80" r="2.80" fill="url(#gB)" stroke="none" stroke-width="0" />
<circle cx="480.96" cy="23.31" r="2.80" fill="url(#gB)" stroke="none" stroke-width="0" />
<circle cx="485.30" cy="28.91" r="2.80" fill="url(#gB)" stroke="none" stroke-width="0" />
<circle cx="489.90" cy="37.13" r="2.80" fill="url(#gB)" stroke="none" stroke-width="0" />
<circle cx="498.84" cy="57.69" r="2.80" fill="url(#gB)" stroke="none" stroke-width="0" />
<circle cx="507.78" cy="78.62" r="2.80" fill="url(#gB)" stroke="none" stroke-width="0" />
<circle cx="399.20" cy="19.90" r="2.80" fill="url(#gG)" stroke="none" stroke-width="0" />
<text x="410.90" y="23.00" font-family='"Liberation Sans", sans-serif' font-size="8.5" font-weight="bold" font-style="normal" fill="#222" text-anchor="start" stroke="#222" stroke-width="0.22" >v = 0.02 m/s</text>
<circle cx="399.20" cy="29.70" r="2.80" fill="url(#gR)" stroke="none" stroke-width="0" />
<text x="410.90" y="32.80" font-family='"Liberation Sans", sans-serif' font-size="8.5" font-weight="bold" font-style="normal" fill="#222" text-anchor="start" stroke="#222" stroke-width="0.22" >v = 0.04 m/s</text>
<circle cx="399.20" cy="39.50" r="2.80" fill="url(#gB)" stroke="none" stroke-width="0" />
<text x="410.90" y="42.60" font-family='"Liberation Sans", sans-serif' font-size="8.5" font-weight="bold" font-style="normal" fill="#222" text-anchor="start" stroke="#222" stroke-width="0.22" >v = 0.08 m/s</text>
<text x="8.00" y="153.00" font-family='"Liberation Serif", serif' font-size="16" font-weight="bold" font-style="normal" fill="#000" text-anchor="start" >d</text>
<line x1="30.40" y1="149.30" x2="104.10" y2="149.30" stroke="#f3484a" stroke-width="1.1" />
<line x1="30.40" y1="149.30" x2="30.40" y2="173.50" stroke="#f3484a" stroke-width="1.1" />
<line x1="30.40" y1="173.50" x2="30.40" y2="199.50" stroke="#555" stroke-width="1.0" />
<line x1="30.40" y1="199.50" x2="30.40" y2="222.50" stroke="#f3484a" stroke-width="1.1" />
<line x1="30.40" y1="222.50" x2="30.40" y2="228.00" stroke="#555" stroke-width="1.0" />
<line x1="30.40" y1="248.00" x2="30.40" y2="259.90" stroke="#555" stroke-width="1.0" />
<line x1="30.40" y1="259.90" x2="104.10" y2="259.90" stroke="#f3484a" stroke-width="1.1" />
<line x1="104.10" y1="149.30" x2="104.10" y2="155.80" stroke="#f3484a" stroke-width="1.1" />
<line x1="104.10" y1="155.80" x2="104.10" y2="166.30" stroke="#8d96ee" stroke-width="1.1" />
<line x1="104.10" y1="199.30" x2="104.10" y2="210.00" stroke="#8d96ee" stroke-width="1.1" />
<line x1="104.10" y1="210.00" x2="104.10" y2="259.90" stroke="#f3484a" stroke-width="1.1" />
<line x1="87.70" y1="182.80" x2="76.60" y2="182.80" stroke="#8d96ee" stroke-width="1.1" />
<polyline points="76.60,182.80 71.30,182.80 71.30,238.80 111.60,238.80" fill="none" stroke="#f3484a" stroke-width="1.1" stroke-linejoin="round" stroke-linecap="round" />
<line x1="111.60" y1="238.80" x2="121.90" y2="238.80" stroke="#555" stroke-width="1.1" />
<line x1="126.20" y1="238.80" x2="137.40" y2="238.80" stroke="#555" stroke-width="1.1" />
<polyline points="137.40,238.80 146.50,238.80 146.50,182.80 131.50,182.80" fill="none" stroke="#f3484a" stroke-width="1.1" stroke-linejoin="round" stroke-linecap="round" />
<line x1="131.50" y1="182.80" x2="120.70" y2="182.80" stroke="#8d96ee" stroke-width="1.1" />
<line x1="121.90" y1="233.60" x2="121.90" y2="243.60" stroke="#111" stroke-width="1.8" />
<line x1="126.20" y1="233.60" x2="126.20" y2="243.60" stroke="#111" stroke-width="1.8" />
<text x="119.60" y="251.70" font-family='"Liberation Serif", serif' font-size="8.5" font-weight="bold" font-style="italic" fill="#222" text-anchor="start" >C</text>
<text x="125.60" y="254.20" font-family='"Liberation Serif", serif' font-size="5.5" font-weight="bold" font-style="normal" fill="#222" text-anchor="start" >L</text>
<line x1="87.70" y1="182.80" x2="104.20" y2="166.30" stroke="#8d96ee" stroke-width="1.1" />
<polygon points="97.06,179.95 90.55,173.44 98.59,171.91" fill="#3340d8"/>
<line x1="102.27" y1="175.59" x2="94.91" y2="168.23" stroke="#8d96ee" stroke-width="1.1" />
<line x1="104.20" y1="166.30" x2="120.70" y2="182.80" stroke="#8d96ee" stroke-width="1.1" />
<polygon points="107.05,175.66 113.56,169.15 115.09,177.19" fill="#3340d8"/>
<line x1="111.41" y1="180.87" x2="118.77" y2="173.51" stroke="#8d96ee" stroke-width="1.1" />
<line x1="87.70" y1="182.80" x2="104.20" y2="199.30" stroke="#8d96ee" stroke-width="1.1" />
<polygon points="90.55,192.16 97.06,185.65 98.59,193.69" fill="#3340d8"/>
<line x1="94.91" y1="197.37" x2="102.27" y2="190.01" stroke="#8d96ee" stroke-width="1.1" />
<line x1="104.20" y1="199.30" x2="120.70" y2="182.80" stroke="#8d96ee" stroke-width="1.1" />
<polygon points="113.56,196.45 107.05,189.94 115.09,188.41" fill="#3340d8"/>
<line x1="118.77" y1="192.09" x2="111.41" y2="184.73" stroke="#8d96ee" stroke-width="1.1" />
<text x="116.00" y="170.80" font-family='"Liberation Serif", serif' font-size="8.5" font-weight="bold" font-style="italic" fill="#222" text-anchor="start" >D</text>
<text x="122.20" y="173.40" font-family='"Liberation Serif", serif' font-size="5.5" font-weight="bold" font-style="normal" fill="#222" text-anchor="start" >1</text>
<text x="84.20" y="170.80" font-family='"Liberation Serif", serif' font-size="8.5" font-weight="bold" font-style="italic" fill="#222" text-anchor="start" >D</text>
<text x="90.40" y="173.40" font-family='"Liberation Serif", serif' font-size="5.5" font-weight="bold" font-style="normal" fill="#222" text-anchor="start" >2</text>
<text x="84.20" y="198.60" font-family='"Liberation Serif", serif' font-size="8.5" font-weight="bold" font-style="italic" fill="#222" text-anchor="start" >D</text>
<text x="90.40" y="201.20" font-family='"Liberation Serif", serif' font-size="5.5" font-weight="bold" font-style="normal" fill="#222" text-anchor="start" >3</text>
<text x="116.00" y="201.20" font-family='"Liberation Serif", serif' font-size="8.5" font-weight="bold" font-style="italic" fill="#222" text-anchor="start" >D</text>
<text x="122.20" y="203.80" font-family='"Liberation Serif", serif' font-size="5.5" font-weight="bold" font-style="normal" fill="#222" text-anchor="start" >4</text>
<rect x="16.70" y="175.50" width="29.70" height="75.30" fill="none" stroke="#1b5fcf" stroke-width="2.1" stroke-dasharray="5.6 2.5"/>
<text x="34.00" y="173.20" font-family='"Liberation Serif", serif' font-size="8.8" font-weight="bold" font-style="normal" fill="#222" text-anchor="start" >TENG</text>
<line x1="25.10" y1="184.00" x2="35.80" y2="184.00" stroke="#111" stroke-width="1.6" />
<line x1="25.10" y1="187.50" x2="35.80" y2="187.50" stroke="#111" stroke-width="1.6" />
<line x1="25.60" y1="190.80" x2="33.60" y2="180.50" stroke="#111" stroke-width="1.5" />
<polygon points="35.40,178.20 34.83,182.19 31.67,179.74" fill="#111"/>
<text x="32.60" y="195.60" font-family='"Liberation Serif", serif' font-size="8.6" font-weight="normal" font-style="italic" fill="#333" text-anchor="start" stroke="#333" stroke-width="0.2" >C</text>
<text x="38.40" y="197.60" font-family='"Liberation Serif", serif' font-size="5.8" font-weight="bold" font-style="normal" fill="#333" text-anchor="start" >T</text>
<circle cx="30.40" cy="238.00" r="10.00" fill="none" stroke="#333" stroke-width="1.0" />
<text x="30.60" y="232.60" font-family='"Liberation Sans", sans-serif' font-size="5.5" font-weight="normal" font-style="normal" fill="#333" text-anchor="middle" stroke="#333" stroke-width="0.18" >+</text>
<line x1="29.40" y1="246.00" x2="32.10" y2="246.00" stroke="#333" stroke-width="1.1" />
<text x="23.30" y="238.80" font-family='"Liberation Serif", serif' font-size="8.6" font-weight="normal" font-style="italic" fill="#222" text-anchor="start" stroke="#222" stroke-width="0.1" >V</text>
<text x="28.80" y="241.60" font-family='"Liberation Serif", serif' font-size="5.8" font-weight="bold" font-style="normal" fill="#222" text-anchor="start" >OC</text>
<text x="162.20" y="153.60" font-family='"Liberation Serif", serif' font-size="16" font-weight="bold" font-style="normal" fill="#000" text-anchor="start" >e</text>
<rect x="192.20" y="157.80" width="139.10" height="102.40" fill="none" stroke="#444" stroke-width="1.0" />
<line x1="192.20" y1="257.80" x2="194.60" y2="257.80" stroke="#444" stroke-width="0.9" />
<text x="189.40" y="260.20" font-family='"Liberation Sans", sans-serif' font-size="6.7" font-weight="normal" font-style="normal" fill="#444" text-anchor="end" stroke="#444" stroke-width="0.18" >0</text>
<line x1="192.20" y1="243.34" x2="194.60" y2="243.34" stroke="#444" stroke-width="0.9" />
<text x="189.40" y="245.74" font-family='"Liberation Sans", sans-serif' font-size="6.7" font-weight="normal" font-style="normal" fill="#444" text-anchor="end" stroke="#444" stroke-width="0.18" >20</text>
<line x1="192.20" y1="228.88" x2="194.60" y2="228.88" stroke="#444" stroke-width="0.9" />
<text x="189.40" y="231.28" font-family='"Liberation Sans", sans-serif' font-size="6.7" font-weight="normal" font-style="normal" fill="#444" text-anchor="end" stroke="#444" stroke-width="0.18" >40</text>
<line x1="192.20" y1="214.42" x2="194.60" y2="214.42" stroke="#444" stroke-width="0.9" />
<text x="189.40" y="216.82" font-family='"Liberation Sans", sans-serif' font-size="6.7" font-weight="normal" font-style="normal" fill="#444" text-anchor="end" stroke="#444" stroke-width="0.18" >60</text>
<line x1="192.20" y1="199.96" x2="194.60" y2="199.96" stroke="#444" stroke-width="0.9" />
<text x="189.40" y="202.36" font-family='"Liberation Sans", sans-serif' font-size="6.7" font-weight="normal" font-style="normal" fill="#444" text-anchor="end" stroke="#444" stroke-width="0.18" >80</text>
<line x1="192.20" y1="185.50" x2="194.60" y2="185.50" stroke="#444" stroke-width="0.9" />
<text x="189.40" y="187.90" font-family='"Liberation Sans", sans-serif' font-size="6.7" font-weight="normal" font-style="normal" fill="#444" text-anchor="end" stroke="#444" stroke-width="0.18" >100</text>
<line x1="192.20" y1="171.04" x2="194.60" y2="171.04" stroke="#444" stroke-width="0.9" />
<line x1="192.20" y1="156.58" x2="194.60" y2="156.58" stroke="#444" stroke-width="0.9" />
<line x1="192.20" y1="250.57" x2="193.60" y2="250.57" stroke="#444" stroke-width="0.7" />
<line x1="192.20" y1="236.11" x2="193.60" y2="236.11" stroke="#444" stroke-width="0.7" />
<line x1="192.20" y1="221.65" x2="193.60" y2="221.65" stroke="#444" stroke-width="0.7" />
<line x1="192.20" y1="207.19" x2="193.60" y2="207.19" stroke="#444" stroke-width="0.7" />
<line x1="192.20" y1="192.73" x2="193.60" y2="192.73" stroke="#444" stroke-width="0.7" />
<line x1="192.20" y1="178.27" x2="193.60" y2="178.27" stroke="#444" stroke-width="0.7" />
<line x1="192.20" y1="163.81" x2="193.60" y2="163.81" stroke="#444" stroke-width="0.7" />
<line x1="200.10" y1="260.20" x2="200.10" y2="257.80" stroke="#444" stroke-width="0.9" />
<text x="200.10" y="267.60" font-family='"Liberation Sans", sans-serif' font-size="6.7" font-weight="normal" font-style="normal" fill="#444" text-anchor="middle" stroke="#444" stroke-width="0.18" >0</text>
<line x1="231.00" y1="260.20" x2="231.00" y2="257.80" stroke="#444" stroke-width="0.9" />
<text x="231.00" y="267.60" font-family='"Liberation Sans", sans-serif' font-size="6.7" font-weight="normal" font-style="normal" fill="#444" text-anchor="middle" stroke="#444" stroke-width="0.18" >10</text>
<line x1="261.90" y1="260.20" x2="261.90" y2="257.80" stroke="#444" stroke-width="0.9" />
<text x="261.90" y="267.60" font-family='"Liberation Sans", sans-serif' font-size="6.7" font-weight="normal" font-style="normal" fill="#444" text-anchor="middle" stroke="#444" stroke-width="0.18" >20</text>
<line x1="292.80" y1="260.20" x2="292.80" y2="257.80" stroke="#444" stroke-width="0.9" />
<text x="292.80" y="267.60" font-family='"Liberation Sans", sans-serif' font-size="6.7" font-weight="normal" font-style="normal" fill="#444" text-anchor="middle" stroke="#444" stroke-width="0.18" >30</text>
<line x1="323.70" y1="260.20" x2="323.70" y2="257.80" stroke="#444" stroke-width="0.9" />
<text x="323.70" y="267.60" font-family='"Liberation Sans", sans-serif' font-size="6.7" font-weight="normal" font-style="normal" fill="#444" text-anchor="middle" stroke="#444" stroke-width="0.18" >40</text>
<line x1="215.55" y1="260.20" x2="215.55" y2="258.80" stroke="#444" stroke-width="0.7" />
<line x1="246.45" y1="260.20" x2="246.45" y2="258.80" stroke="#444" stroke-width="0.7" />
<line x1="277.35" y1="260.20" x2="277.35" y2="258.80" stroke="#444" stroke-width="0.7" />
<line x1="308.25" y1="260.20" x2="308.25" y2="258.80" stroke="#444" stroke-width="0.7" />
<text x="261.80" y="274.60" font-family='"Liberation Sans", sans-serif' font-size="7.2" font-weight="normal" font-style="normal" fill="#333" text-anchor="middle" stroke="#333" stroke-width="0.18" >Time(s)</text>
<text x="178.00" y="211.10" font-family='"Liberation Sans", sans-serif' font-size="7.2" font-weight="normal" font-style="normal" fill="#333" text-anchor="middle" transform="rotate(-90 178.0 211.1)" stroke="#333" stroke-width="0.18" >Voltage(V)</text>
<polyline points="200.60,257.80 200.60,182.50 324.70,182.50" fill="none" stroke="#111" stroke-width="1.6" stroke-linejoin="round" stroke-linecap="round" />
<polyline points="200.10,257.80 200.32,256.05 200.62,253.67 200.96,250.84 201.35,247.71 201.77,244.46 202.21,241.25 202.66,238.24 203.10,235.60 203.55,233.25 204.03,230.99 204.52,228.82 205.03,226.74 205.55,224.76 206.07,222.88 206.59,221.09 207.10,219.40 207.61,217.82 208.12,216.35 208.63,214.99 209.15,213.71 209.67,212.52 210.18,211.39 210.69,210.32 211.20,209.30 211.69,208.35 212.16,207.51 212.62,206.75 213.07,206.05 213.55,205.38 214.05,204.71 214.60,204.03 215.20,203.30 215.85,202.54 216.53,201.77 217.25,201.00 218.00,200.23 218.78,199.46 219.59,198.69 220.43,197.94 221.30,197.20 222.19,196.47 223.12,195.74 224.07,195.02 225.05,194.30 226.06,193.60 227.11,192.91 228.19,192.24 229.30,191.60 230.46,190.97 231.68,190.36 232.93,189.77 234.22,189.19 235.52,188.63 236.83,188.09 238.12,187.58 239.40,187.10 240.66,186.64 241.93,186.21 243.19,185.79 244.45,185.41 245.71,185.04 246.97,184.70 248.24,184.39 249.50,184.10 250.76,183.84 252.03,183.61 253.29,183.41 254.55,183.22 255.81,183.07 257.07,182.93 258.34,182.81 259.60,182.70 260.93,182.62 262.36,182.56 263.83,182.53 265.28,182.51 266.65,182.51 267.89,182.51 268.92,182.51 269.70,182.50 324.70,182.50" fill="none" stroke="#c0201e" stroke-width="1.5" stroke-linejoin="round" stroke-linecap="round" />
<line x1="266.00" y1="182.50" x2="324.70" y2="182.50" stroke="#7d1b1b" stroke-width="1.6" />
<polyline points="200.10,257.80 201.64,256.02 203.19,254.29 204.73,252.60 206.28,250.95 207.82,249.33 209.37,247.76 210.91,246.23 212.46,244.73 214.00,243.27 215.55,241.84 217.09,240.45 218.64,239.09 220.19,237.76 221.73,236.47 223.27,235.20 224.82,233.97 226.37,232.77 227.91,231.60 229.45,230.45 231.00,229.33 232.54,228.24 234.09,227.18 235.63,226.14 237.18,225.12 238.72,224.13 240.27,223.17 241.81,222.23 243.36,221.31 244.91,220.41 246.45,219.53 248.00,218.68 249.54,217.84 251.08,217.03 252.63,216.23 254.17,215.46 255.72,214.70 257.26,213.96 258.81,213.24 260.36,212.54 261.90,211.85 263.44,211.18 264.99,210.53 266.53,209.89 268.08,209.27 269.62,208.66 271.17,208.07 272.71,207.49 274.26,206.93 275.81,206.37 277.35,205.84 278.89,205.31 280.44,204.80 281.99,204.30 283.53,203.81 285.07,203.34 286.62,202.87 288.16,202.42 289.71,201.98 291.25,201.54 292.80,201.12 294.34,200.71 295.89,200.31 297.44,199.92 298.98,199.54 300.52,199.16 302.07,198.80 303.62,198.44 305.16,198.10 306.70,197.76 308.25,197.43 309.79,197.11 311.34,196.79 312.88,196.48 314.43,196.18 315.98,195.89 317.52,195.61 319.06,195.33 320.61,195.06 322.15,194.79 323.70,194.53" fill="none" stroke="#1c2a9e" stroke-width="1.6" stroke-linejoin="round" stroke-linecap="round" />
<polyline points="200.10,257.80 324.50,256.60" fill="none" stroke="#22e8f0" stroke-width="2.0" stroke-linejoin="round" stroke-linecap="round" />
<line x1="194.10" y1="169.30" x2="208.40" y2="169.30" stroke="#111" stroke-width="1.7" />
<text x="210.20" y="171.60" font-family='"Liberation Sans", sans-serif' font-size="6.2" font-weight="normal" font-style="normal" fill="#555" text-anchor="start" stroke="#555" stroke-width="0.18" >5nF</text>
<line x1="226.80" y1="169.30" x2="241.80" y2="169.30" stroke="#c0201e" stroke-width="1.7" />
<text x="243.50" y="171.60" font-family='"Liberation Sans", sans-serif' font-size="6.2" font-weight="normal" font-style="normal" fill="#555" text-anchor="start" stroke="#555" stroke-width="0.18" >500nF</text>
<line x1="264.30" y1="169.30" x2="279.10" y2="169.30" stroke="#1c2a9e" stroke-width="1.7" />
<text x="280.60" y="171.60" font-family='"Liberation Sans", sans-serif' font-size="6.2" font-weight="normal" font-style="normal" fill="#555" text-anchor="start" stroke="#555" stroke-width="0.18" >5μF</text>
<line x1="294.10" y1="169.30" x2="309.20" y2="169.30" stroke="#22e8f0" stroke-width="1.7" />
<text x="310.90" y="171.60" font-family='"Liberation Sans", sans-serif' font-size="6.2" font-weight="normal" font-style="normal" fill="#555" text-anchor="start" stroke="#555" stroke-width="0.18" >200μF</text>
<text x="364.50" y="153.10" font-family='"Liberation Serif", serif' font-size="16" font-weight="bold" font-style="normal" fill="#000" text-anchor="start" >f</text>
<rect x="390.40" y="157.70" width="144.20" height="94.90" fill="none" stroke="#444" stroke-width="1.0" />
<line x1="390.40" y1="252.60" x2="392.90" y2="252.60" stroke="#555" stroke-width="0.9" />
<text x="384.40" y="255.00" font-family='"Liberation Serif", serif' font-size="6.8" font-weight="normal" font-style="normal" fill="#333" text-anchor="end" stroke="#333" stroke-width="0.1" >80</text>
<line x1="390.40" y1="231.40" x2="392.90" y2="231.40" stroke="#555" stroke-width="0.9" />
<text x="384.40" y="233.80" font-family='"Liberation Serif", serif' font-size="6.8" font-weight="normal" font-style="normal" fill="#333" text-anchor="end" stroke="#333" stroke-width="0.1" >120</text>
<line x1="390.40" y1="210.20" x2="392.90" y2="210.20" stroke="#555" stroke-width="0.9" />
<text x="384.40" y="212.60" font-family='"Liberation Serif", serif' font-size="6.8" font-weight="normal" font-style="normal" fill="#333" text-anchor="end" stroke="#333" stroke-width="0.1" >160</text>
<line x1="390.40" y1="189.00" x2="392.90" y2="189.00" stroke="#555" stroke-width="0.9" />
<text x="384.40" y="191.40" font-family='"Liberation Serif", serif' font-size="6.8" font-weight="normal" font-style="normal" fill="#333" text-anchor="end" stroke="#333" stroke-width="0.1" >200</text>
<line x1="390.40" y1="167.80" x2="392.90" y2="167.80" stroke="#555" stroke-width="0.9" />
<text x="384.40" y="170.20" font-family='"Liberation Serif", serif' font-size="6.8" font-weight="normal" font-style="normal" fill="#333" text-anchor="end" stroke="#333" stroke-width="0.1" >240</text>
<line x1="390.40" y1="242.00" x2="391.90" y2="242.00" stroke="#555" stroke-width="0.7" />
<line x1="390.40" y1="220.80" x2="391.90" y2="220.80" stroke="#555" stroke-width="0.7" />
<line x1="390.40" y1="199.60" x2="391.90" y2="199.60" stroke="#555" stroke-width="0.7" />
<line x1="390.40" y1="178.40" x2="391.90" y2="178.40" stroke="#555" stroke-width="0.7" />
<line x1="391.40" y1="252.60" x2="391.40" y2="250.40" stroke="#555" stroke-width="0.9" />
<line x1="400.95" y1="252.60" x2="400.95" y2="251.30" stroke="#555" stroke-width="0.7" />
<text x="391.40" y="265.10" font-family='"Liberation Serif", serif' font-size="6.8" font-weight="normal" font-style="normal" fill="#333" text-anchor="middle" stroke="#333" stroke-width="0.1" >80</text>
<line x1="410.49" y1="252.60" x2="410.49" y2="250.40" stroke="#555" stroke-width="0.9" />
<line x1="420.04" y1="252.60" x2="420.04" y2="251.30" stroke="#555" stroke-width="0.7" />
<text x="410.49" y="265.10" font-family='"Liberation Serif", serif' font-size="6.8" font-weight="normal" font-style="normal" fill="#333" text-anchor="middle" stroke="#333" stroke-width="0.1" >120</text>
<line x1="429.58" y1="252.60" x2="429.58" y2="250.40" stroke="#555" stroke-width="0.9" />
<line x1="439.13" y1="252.60" x2="439.13" y2="251.30" stroke="#555" stroke-width="0.7" />
<text x="429.58" y="265.10" font-family='"Liberation Serif", serif' font-size="6.8" font-weight="normal" font-style="normal" fill="#333" text-anchor="middle" stroke="#333" stroke-width="0.1" >160</text>
<line x1="448.68" y1="252.60" x2="448.68" y2="250.40" stroke="#555" stroke-width="0.9" />
<line x1="458.23" y1="252.60" x2="458.23" y2="251.30" stroke="#555" stroke-width="0.7" />
<text x="448.68" y="265.10" font-family='"Liberation Serif", serif' font-size="6.8" font-weight="normal" font-style="normal" fill="#333" text-anchor="middle" stroke="#333" stroke-width="0.1" >200</text>
<line x1="467.77" y1="252.60" x2="467.77" y2="250.40" stroke="#555" stroke-width="0.9" />
<line x1="477.32" y1="252.60" x2="477.32" y2="251.30" stroke="#555" stroke-width="0.7" />
<text x="467.77" y="265.10" font-family='"Liberation Serif", serif' font-size="6.8" font-weight="normal" font-style="normal" fill="#333" text-anchor="middle" stroke="#333" stroke-width="0.1" >240</text>
<line x1="486.86" y1="252.60" x2="486.86" y2="250.40" stroke="#555" stroke-width="0.9" />
<line x1="496.41" y1="252.60" x2="496.41" y2="251.30" stroke="#555" stroke-width="0.7" />
<text x="486.86" y="265.10" font-family='"Liberation Serif", serif' font-size="6.8" font-weight="normal" font-style="normal" fill="#333" text-anchor="middle" stroke="#333" stroke-width="0.1" >280</text>
<line x1="505.95" y1="252.60" x2="505.95" y2="250.40" stroke="#555" stroke-width="0.9" />
<line x1="515.50" y1="252.60" x2="515.50" y2="251.30" stroke="#555" stroke-width="0.7" />
<text x="505.95" y="265.10" font-family='"Liberation Serif", serif' font-size="6.8" font-weight="normal" font-style="normal" fill="#333" text-anchor="middle" stroke="#333" stroke-width="0.1" >320</text>
<line x1="525.04" y1="252.60" x2="525.04" y2="250.40" stroke="#555" stroke-width="0.9" />
<line x1="534.59" y1="252.60" x2="534.59" y2="251.30" stroke="#555" stroke-width="0.7" />
<text x="525.04" y="265.10" font-family='"Liberation Serif", serif' font-size="6.8" font-weight="normal" font-style="normal" fill="#333" text-anchor="middle" stroke="#333" stroke-width="0.1" >360</text>
<text x="0" y="0" transform="translate(440.30 275.30) scale(0.885 1)" font-family='"Liberation Serif", serif' font-size="8.0" font-weight="normal" font-style="normal" fill="#333" text-anchor="start" stroke="#333" stroke-width="0.12" >cycle numbers <tspan font-style="italic">n</tspan></text>
<text x="370.00" y="205.10" font-family='"Liberation Serif", serif' font-size="7.3" font-weight="normal" font-style="normal" fill="#444" text-anchor="middle" transform="rotate(-90 370.0 205.1)" >C<tspan font-size="4.8" dy="1.6">eq</tspan><tspan dy="-1.6">(nF)</tspan></text>
<circle cx="409.80" cy="247.10" r="2.90" fill="url(#gO)" stroke="none" stroke-width="0" />
<circle cx="429.00" cy="231.70" r="2.90" fill="url(#gO)" stroke="none" stroke-width="0" />
<circle cx="448.40" cy="220.90" r="2.90" fill="url(#gO)" stroke="none" stroke-width="0" />
<circle cx="467.70" cy="210.80" r="2.90" fill="url(#gO)" stroke="none" stroke-width="0" />
<circle cx="486.60" cy="199.80" r="2.90" fill="url(#gO)" stroke="none" stroke-width="0" />
<circle cx="506.00" cy="184.10" r="2.90" fill="url(#gO)" stroke="none" stroke-width="0" />
<circle cx="525.20" cy="168.10" r="2.90" fill="url(#gO)" stroke="none" stroke-width="0" />
<line x1="409.80" y1="248.40" x2="525.70" y2="169.80" stroke="#4a7fd0" stroke-width="1.3" />
<circle cx="410.30" cy="166.00" r="2.60" fill="url(#gO)" stroke="none" stroke-width="0" />
<text x="0" y="0" transform="translate(419.60 168.20) scale(0.885 1)" font-family='"Liberation Serif", serif' font-size="8.0" font-weight="normal" font-style="normal" fill="#333" text-anchor="start" stroke="#333" stroke-width="0.12" >Calculated Results</text>
<line x1="403.20" y1="178.70" x2="419.60" y2="178.70" stroke="#4a7fd0" stroke-width="1.3" />
<text x="0" y="0" transform="translate(419.60 181.00) scale(0.885 1)" font-family='"Liberation Serif", serif' font-size="8.0" font-weight="normal" font-style="normal" fill="#333" text-anchor="start" stroke="#333" stroke-width="0.12" >Linear Fitting Curve</text>
<text x="8.30" y="291.60" font-family='"Liberation Serif", serif' font-size="16" font-weight="bold" font-style="normal" fill="#000" text-anchor="start" >g</text>
<line x1="32.50" y1="291.60" x2="32.50" y2="397.60" stroke="#000" stroke-width="1.5" />
<line x1="30.00" y1="396.80" x2="143.50" y2="396.80" stroke="#000" stroke-width="1.5" />
<line x1="30.50" y1="392.65" x2="32.50" y2="392.65" stroke="#000" stroke-width="1.0" />
<text x="28.20" y="395.53" font-family='"Liberation Sans", sans-serif' font-size="6.6" font-weight="normal" font-style="normal" fill="#333" text-anchor="end" stroke="#333" stroke-width="0.18" >−60</text>
<line x1="30.50" y1="379.10" x2="32.50" y2="379.10" stroke="#000" stroke-width="1.0" />
<text x="28.20" y="381.98" font-family='"Liberation Sans", sans-serif' font-size="6.6" font-weight="normal" font-style="normal" fill="#333" text-anchor="end" stroke="#333" stroke-width="0.18" >−40</text>
<line x1="30.50" y1="365.55" x2="32.50" y2="365.55" stroke="#000" stroke-width="1.0" />
<text x="28.20" y="368.43" font-family='"Liberation Sans", sans-serif' font-size="6.6" font-weight="normal" font-style="normal" fill="#333" text-anchor="end" stroke="#333" stroke-width="0.18" >−20</text>
<line x1="30.50" y1="352.00" x2="32.50" y2="352.00" stroke="#000" stroke-width="1.0" />
<text x="28.20" y="354.88" font-family='"Liberation Sans", sans-serif' font-size="6.6" font-weight="normal" font-style="normal" fill="#333" text-anchor="end" stroke="#333" stroke-width="0.18" >0</text>
<line x1="30.50" y1="338.45" x2="32.50" y2="338.45" stroke="#000" stroke-width="1.0" />
<text x="28.20" y="341.33" font-family='"Liberation Sans", sans-serif' font-size="6.6" font-weight="normal" font-style="normal" fill="#333" text-anchor="end" stroke="#333" stroke-width="0.18" >20</text>
<line x1="30.50" y1="324.90" x2="32.50" y2="324.90" stroke="#000" stroke-width="1.0" />
<text x="28.20" y="327.78" font-family='"Liberation Sans", sans-serif' font-size="6.6" font-weight="normal" font-style="normal" fill="#333" text-anchor="end" stroke="#333" stroke-width="0.18" >40</text>
<line x1="30.50" y1="311.35" x2="32.50" y2="311.35" stroke="#000" stroke-width="1.0" />
<text x="28.20" y="314.23" font-family='"Liberation Sans", sans-serif' font-size="6.6" font-weight="normal" font-style="normal" fill="#333" text-anchor="end" stroke="#333" stroke-width="0.18" >60</text>
<line x1="30.50" y1="297.80" x2="32.50" y2="297.80" stroke="#000" stroke-width="1.0" />
<text x="28.20" y="300.68" font-family='"Liberation Sans", sans-serif' font-size="6.6" font-weight="normal" font-style="normal" fill="#333" text-anchor="end" stroke="#333" stroke-width="0.18" >80</text>
<line x1="32.50" y1="385.88" x2="33.80" y2="385.88" stroke="#000" stroke-width="0.8" />
<line x1="32.50" y1="372.32" x2="33.80" y2="372.32" stroke="#000" stroke-width="0.8" />
<line x1="32.50" y1="358.77" x2="33.80" y2="358.77" stroke="#000" stroke-width="0.8" />
<line x1="32.50" y1="345.23" x2="33.80" y2="345.23" stroke="#000" stroke-width="0.8" />
<line x1="32.50" y1="331.68" x2="33.80" y2="331.68" stroke="#000" stroke-width="0.8" />
<line x1="32.50" y1="318.12" x2="33.80" y2="318.12" stroke="#000" stroke-width="0.8" />
<line x1="32.50" y1="304.57" x2="33.80" y2="304.57" stroke="#000" stroke-width="0.8" />
<line x1="32.50" y1="396.80" x2="32.50" y2="398.80" stroke="#000" stroke-width="1.0" />
<text x="32.50" y="406.70" font-family='"Liberation Sans", sans-serif' font-size="6.6" font-weight="normal" font-style="normal" fill="#333" text-anchor="middle" stroke="#333" stroke-width="0.18" >0</text>
<line x1="48.30" y1="396.80" x2="48.30" y2="398.80" stroke="#000" stroke-width="1.0" />
<text x="48.30" y="406.70" font-family='"Liberation Sans", sans-serif' font-size="6.6" font-weight="normal" font-style="normal" fill="#333" text-anchor="middle" stroke="#333" stroke-width="0.18" >5</text>
<line x1="64.10" y1="396.80" x2="64.10" y2="398.80" stroke="#000" stroke-width="1.0" />
<text x="64.10" y="406.70" font-family='"Liberation Sans", sans-serif' font-size="6.6" font-weight="normal" font-style="normal" fill="#333" text-anchor="middle" stroke="#333" stroke-width="0.18" >10</text>
<line x1="79.90" y1="396.80" x2="79.90" y2="398.80" stroke="#000" stroke-width="1.0" />
<text x="79.90" y="406.70" font-family='"Liberation Sans", sans-serif' font-size="6.6" font-weight="normal" font-style="normal" fill="#333" text-anchor="middle" stroke="#333" stroke-width="0.18" >15</text>
<line x1="95.70" y1="396.80" x2="95.70" y2="398.80" stroke="#000" stroke-width="1.0" />
<text x="95.70" y="406.70" font-family='"Liberation Sans", sans-serif' font-size="6.6" font-weight="normal" font-style="normal" fill="#333" text-anchor="middle" stroke="#333" stroke-width="0.18" >20</text>
<line x1="111.50" y1="396.80" x2="111.50" y2="398.80" stroke="#000" stroke-width="1.0" />
<text x="111.50" y="406.70" font-family='"Liberation Sans", sans-serif' font-size="6.6" font-weight="normal" font-style="normal" fill="#333" text-anchor="middle" stroke="#333" stroke-width="0.18" >25</text>
<line x1="127.30" y1="396.80" x2="127.30" y2="398.80" stroke="#000" stroke-width="1.0" />
<text x="127.30" y="406.70" font-family='"Liberation Sans", sans-serif' font-size="6.6" font-weight="normal" font-style="normal" fill="#333" text-anchor="middle" stroke="#333" stroke-width="0.18" >30</text>
<line x1="143.10" y1="396.80" x2="143.10" y2="398.80" stroke="#000" stroke-width="1.0" />
<text x="143.10" y="406.70" font-family='"Liberation Sans", sans-serif' font-size="6.6" font-weight="normal" font-style="normal" fill="#333" text-anchor="middle" stroke="#333" stroke-width="0.18" >35</text>
<line x1="35.66" y1="396.80" x2="35.66" y2="395.60" stroke="#000" stroke-width="0.7" />
<line x1="38.82" y1="396.80" x2="38.82" y2="395.60" stroke="#000" stroke-width="0.7" />
<line x1="41.98" y1="396.80" x2="41.98" y2="395.60" stroke="#000" stroke-width="0.7" />
<line x1="45.14" y1="396.80" x2="45.14" y2="395.60" stroke="#000" stroke-width="0.7" />
<line x1="51.46" y1="396.80" x2="51.46" y2="395.60" stroke="#000" stroke-width="0.7" />
<line x1="54.62" y1="396.80" x2="54.62" y2="395.60" stroke="#000" stroke-width="0.7" />
<line x1="57.78" y1="396.80" x2="57.78" y2="395.60" stroke="#000" stroke-width="0.7" />
<line x1="60.94" y1="396.80" x2="60.94" y2="395.60" stroke="#000" stroke-width="0.7" />
<line x1="67.26" y1="396.80" x2="67.26" y2="395.60" stroke="#000" stroke-width="0.7" />
<line x1="70.42" y1="396.80" x2="70.42" y2="395.60" stroke="#000" stroke-width="0.7" />
<line x1="73.58" y1="396.80" x2="73.58" y2="395.60" stroke="#000" stroke-width="0.7" />
<line x1="76.74" y1="396.80" x2="76.74" y2="395.60" stroke="#000" stroke-width="0.7" />
<line x1="83.06" y1="396.80" x2="83.06" y2="395.60" stroke="#000" stroke-width="0.7" />
<line x1="86.22" y1="396.80" x2="86.22" y2="395.60" stroke="#000" stroke-width="0.7" />
<line x1="89.38" y1="396.80" x2="89.38" y2="395.60" stroke="#000" stroke-width="0.7" />
<line x1="92.54" y1="396.80" x2="92.54" y2="395.60" stroke="#000" stroke-width="0.7" />
<line x1="98.86" y1="396.80" x2="98.86" y2="395.60" stroke="#000" stroke-width="0.7" />
<line x1="102.02" y1="396.80" x2="102.02" y2="395.60" stroke="#000" stroke-width="0.7" />
<line x1="105.18" y1="396.80" x2="105.18" y2="395.60" stroke="#000" stroke-width="0.7" />
<line x1="108.34" y1="396.80" x2="108.34" y2="395.60" stroke="#000" stroke-width="0.7" />
<line x1="114.66" y1="396.80" x2="114.66" y2="395.60" stroke="#000" stroke-width="0.7" />
<line x1="117.82" y1="396.80" x2="117.82" y2="395.60" stroke="#000" stroke-width="0.7" />
<line x1="120.98" y1="396.80" x2="120.98" y2="395.60" stroke="#000" stroke-width="0.7" />
<line x1="124.14" y1="396.80" x2="124.14" y2="395.60" stroke="#000" stroke-width="0.7" />
<line x1="130.46" y1="396.80" x2="130.46" y2="395.60" stroke="#000" stroke-width="0.7" />
<line x1="133.62" y1="396.80" x2="133.62" y2="395.60" stroke="#000" stroke-width="0.7" />
<line x1="136.78" y1="396.80" x2="136.78" y2="395.60" stroke="#000" stroke-width="0.7" />
<line x1="139.94" y1="396.80" x2="139.94" y2="395.60" stroke="#000" stroke-width="0.7" />
<text x="11.60" y="343.60" font-family='"Liberation Sans", sans-serif' font-size="6.5" font-weight="normal" font-style="normal" fill="#333" text-anchor="middle" transform="rotate(-90 11.6 343.6)" stroke="#333" stroke-width="0.18" >Voltage (V)</text>
<text x="85.00" y="415.50" font-family='"Liberation Sans", sans-serif' font-size="6.5" font-weight="normal" font-style="normal" fill="#333" text-anchor="middle" stroke="#333" stroke-width="0.18" >Charge (nC)</text>
<text x="52.40" y="292.30" font-family='"Liberation Sans", sans-serif' font-size="6.6" font-weight="normal" font-style="normal" fill="#3535ff" text-anchor="start" stroke="#3535ff" stroke-width="0.18" >CEO with <tspan font-style="italic">R</tspan> = 100 MΩ</text>
<line x1="38.30" y1="299.60" x2="49.10" y2="299.60" stroke="#ff2a2a" stroke-width="1.8" />
<text x="51.20" y="301.90" font-family='"Liberation Sans", sans-serif' font-size="6.5" font-weight="normal" font-style="normal" fill="#333" text-anchor="start" stroke="#333" stroke-width="0.18" >First period</text>
<line x1="38.30" y1="307.70" x2="49.10" y2="307.70" stroke="#33e033" stroke-width="1.8" />
<text x="51.20" y="310.00" font-family='"Liberation Sans", sans-serif' font-size="6.5" font-weight="normal" font-style="normal" fill="#333" text-anchor="start" stroke="#333" stroke-width="0.18" >Second period</text>
<line x1="38.30" y1="315.80" x2="49.10" y2="315.80" stroke="#2a2aff" stroke-width="1.8" />
<text x="51.20" y="318.10" font-family='"Liberation Sans", sans-serif' font-size="6.5" font-weight="normal" font-style="normal" fill="#333" text-anchor="start" stroke="#333" stroke-width="0.18" >Following periods</text>
<polyline points="113.46,301.80 107.30,301.80 107.30,311.40 118.32,311.40" fill="none" stroke="#2a2a2a" stroke-width="1.2" stroke-linejoin="round" stroke-linecap="round" />
<polyline points="139.65,301.80 144.40,301.80 144.40,311.40 135.20,311.40" fill="none" stroke="#2a2a2a" stroke-width="1.2" stroke-linejoin="round" stroke-linecap="round" />
<rect x="113.46" y="298.50" width="26.19" height="6.80" fill="#fff" stroke="#2a2a2a" stroke-width="1.2" rx="0.8"/>
<rect x="118.32" y="308.40" width="16.88" height="6.20" fill="#fff" stroke="#2a2a2a" stroke-width="1.2" rx="0.8"/>
<text x="126.55" y="304.10" font-family='"Liberation Sans", sans-serif' font-size="5.6" font-weight="normal" font-style="normal" fill="#3a3a3a" text-anchor="middle" stroke="#3a3a3a" stroke-width="0.18" >TENG</text>
<text x="126.76" y="313.70" font-family='"Liberation Sans", sans-serif' font-size="5.6" font-weight="normal" font-style="normal" fill="#3a3a3a" text-anchor="middle" stroke="#3a3a3a" stroke-width="0.18" >R</text>
<polyline points="68.80,352.80 68.88,352.07 68.96,351.09 69.06,349.93 69.18,348.64 69.33,347.29 69.51,345.94 69.73,344.65 70.00,343.50 70.31,342.43 70.64,341.38 71.01,340.34 71.42,339.33 71.87,338.35 72.36,337.42 72.90,336.53 73.50,335.70 74.16,334.92 74.87,334.18 75.63,333.48 76.44,332.83 77.28,332.22 78.16,331.67 79.07,331.16 80.00,330.70 80.96,330.30 81.95,329.94 82.98,329.64 84.03,329.39 85.11,329.18 86.22,329.01 87.35,328.89 88.50,328.80 89.70,328.75 90.96,328.73 92.26,328.74 93.58,328.81 94.88,328.92 96.15,329.08 97.37,329.31 98.50,329.60 99.56,329.96 100.57,330.38 101.53,330.86 102.46,331.40 103.34,331.99 104.19,332.62 105.01,333.29 105.80,334.00 106.56,334.75 107.29,335.56 107.99,336.42 108.65,337.31 109.27,338.25 109.86,339.21 110.40,340.19 110.90,341.20 111.36,342.25 111.78,343.35 112.16,344.50 112.51,345.66 112.80,346.83 113.05,347.99 113.25,349.12 113.40,350.20 113.50,351.24 113.55,352.26 113.55,353.27 113.51,354.25 113.41,355.22 113.26,356.16 113.06,357.09 112.80,358.00 112.49,358.90 112.12,359.79 111.70,360.66 111.23,361.52 110.71,362.35 110.13,363.14 109.49,363.89 108.80,364.60 108.05,365.26 107.23,365.89 106.35,366.48 105.42,367.03 104.44,367.55 103.43,368.03 102.38,368.48 101.30,368.90 100.17,369.29 98.97,369.66 97.72,370.00 96.44,370.31 95.14,370.57 93.86,370.77 92.61,370.92 91.40,371.00 90.23,371.01 89.08,370.96 87.95,370.85 86.83,370.68 85.72,370.47 84.63,370.21 83.56,369.92 82.50,369.60 81.44,369.24 80.38,368.83 79.32,368.37 78.28,367.88 77.28,367.35 76.32,366.79 75.42,366.21 74.60,365.60 73.84,364.96 73.14,364.28 72.48,363.57 71.88,362.83 71.33,362.07 70.83,361.29 70.39,360.50 70.00,359.70 69.68,358.84 69.43,357.88 69.25,356.88 69.11,355.88 69.01,354.93 68.94,354.06 68.87,353.34 68.80,352.80" fill="none" stroke="#33e033" stroke-width="1.6" stroke-linejoin="round" stroke-linecap="round" />
<polyline points="70.30,353.50 70.36,352.78 70.42,351.81 70.49,350.66 70.58,349.38 70.70,348.04 70.87,346.69 71.10,345.39 71.40,344.20 71.77,343.08 72.18,341.94 72.66,340.80 73.17,339.68 73.74,338.60 74.35,337.56 75.01,336.59 75.70,335.70 76.45,334.88 77.26,334.12 78.13,333.41 79.03,332.76 79.96,332.16 80.91,331.61 81.86,331.13 82.80,330.70 83.74,330.34 84.70,330.05 85.67,329.82 86.65,329.64 87.64,329.51 88.63,329.42 89.62,329.35 90.60,329.30 91.59,329.26 92.59,329.24 93.59,329.25 94.59,329.29 95.59,329.38 96.58,329.52 97.55,329.73 98.50,330.00 99.44,330.35 100.38,330.76 101.31,331.23 102.23,331.75 103.13,332.32 103.99,332.94 104.82,333.60 105.60,334.30 106.34,335.04 107.06,335.85 107.74,336.70 108.39,337.59 109.01,338.51 109.58,339.46 110.11,340.43 110.60,341.40 111.04,342.40 111.45,343.44 111.82,344.51 112.15,345.60 112.43,346.69 112.67,347.78 112.86,348.86 113.00,349.90 113.09,350.93 113.14,351.95 113.14,352.97 113.09,353.98 113.00,354.97 112.85,355.94 112.65,356.89 112.40,357.80 112.09,358.69 111.73,359.55 111.32,360.40 110.86,361.23 110.35,362.02 109.78,362.78 109.17,363.51 108.50,364.20 107.78,364.85 107.00,365.47 106.16,366.06 105.28,366.62 104.34,367.14 103.37,367.63 102.35,368.08 101.30,368.50 100.18,368.89 98.98,369.26 97.73,369.60 96.44,369.91 95.14,370.17 93.85,370.37 92.59,370.52 91.40,370.60 90.25,370.61 89.12,370.56 88.01,370.46 86.93,370.30 85.86,370.09 84.81,369.84 83.79,369.54 82.80,369.20 81.82,368.81 80.85,368.35 79.90,367.83 78.98,367.27 78.09,366.69 77.24,366.09 76.44,365.49 75.70,364.90 75.01,364.32 74.35,363.73 73.74,363.14 73.18,362.53 72.66,361.91 72.18,361.26 71.77,360.60 71.40,359.90 71.10,359.12 70.87,358.25 70.70,357.32 70.58,356.39 70.49,355.49 70.42,354.68 70.36,354.00 70.30,353.50" fill="none" stroke="#2a2aff" stroke-width="1.6" stroke-linejoin="round" stroke-linecap="round" />
<polyline points="32.30,351.70 32.52,351.12 32.81,350.35 33.15,349.44 33.53,348.42 33.95,347.34 34.39,346.25 34.84,345.19 35.30,344.20 35.77,343.25 36.26,342.28 36.77,341.31 37.30,340.34 37.85,339.38 38.42,338.45 39.00,337.55 39.60,336.70 40.22,335.90 40.85,335.13 41.50,334.40 42.17,333.69 42.85,333.01 43.55,332.33 44.27,331.67 45.00,331.00 45.74,330.33 46.48,329.67 47.23,329.01 48.01,328.37 48.80,327.74 49.63,327.14 50.49,326.55 51.40,326.00 52.36,325.47 53.37,324.96 54.43,324.46 55.51,323.99 56.61,323.55 57.72,323.13 58.82,322.75 59.90,322.40 60.97,322.08 62.05,321.80 63.12,321.55 64.20,321.32 65.28,321.13 66.35,320.96 67.43,320.82 68.50,320.70 69.57,320.61 70.63,320.54 71.69,320.50 72.75,320.49 73.81,320.50 74.87,320.54 75.93,320.61 77.00,320.70 78.08,320.82 79.17,320.97 80.27,321.16 81.36,321.36 82.45,321.59 83.52,321.84 84.58,322.11 85.60,322.40 86.61,322.70 87.60,323.01 88.59,323.35 89.56,323.70 90.50,324.08 91.41,324.49 92.28,324.93 93.10,325.40 93.87,325.90 94.60,326.43 95.29,326.98 95.95,327.57 96.58,328.19 97.20,328.85 97.80,329.55 98.40,330.30 99.00,331.10 99.60,331.94 100.18,332.83 100.75,333.76 101.29,334.72 101.80,335.72 102.27,336.74 102.70,337.80 103.08,338.91 103.42,340.08 103.72,341.29 103.99,342.53 104.23,343.78 104.45,345.02 104.63,346.23 104.80,347.40 104.94,348.53 105.06,349.65 105.16,350.75 105.22,351.84 105.26,352.91 105.27,353.96 105.25,354.99 105.20,356.00 105.12,357.00 105.02,358.01 104.90,359.00 104.74,359.97 104.54,360.90 104.31,361.80 104.03,362.63 103.70,363.40 103.33,364.10 102.92,364.73 102.47,365.31 101.98,365.85 101.44,366.35 100.85,366.82 100.20,367.27 99.50,367.70 98.71,368.12 97.83,368.53 96.88,368.91 95.89,369.27 94.88,369.59 93.87,369.87 92.91,370.11 92.00,370.30 91.10,370.42 90.17,370.48 89.24,370.49 88.33,370.46 87.48,370.41 86.72,370.36 86.09,370.32 85.60,370.30" fill="none" stroke="#ff2a2a" stroke-width="1.6" stroke-linejoin="round" stroke-linecap="round" />
<line x1="45.70" y1="326.60" x2="52.38" y2="322.30" stroke="#ff2a2a" stroke-width="1.3" />
<polygon points="54.40,321.00 52.28,325.10 49.79,321.23" fill="#ff2a2a"/>
<line x1="90.30" y1="320.80" x2="97.28" y2="325.30" stroke="#ff2a2a" stroke-width="1.3" />
<polygon points="99.30,326.60 94.69,326.37 97.18,322.50" fill="#ff2a2a"/>
<line x1="70.90" y1="336.20" x2="76.33" y2="329.20" stroke="#33e033" stroke-width="1.3" />
<polygon points="77.80,327.30 77.17,331.87 73.53,329.05" fill="#33e033"/>
<line x1="79.20" y1="342.20" x2="84.68" y2="336.17" stroke="#2a2aff" stroke-width="1.3" />
<polygon points="86.30,334.40 85.31,338.91 81.91,335.81" fill="#2a2aff"/>
<line x1="109.00" y1="334.40" x2="113.66" y2="339.96" stroke="#2a2aff" stroke-width="1.3" />
<polygon points="115.20,341.80 110.87,340.21 114.39,337.26" fill="#2a2aff"/>
<line x1="70.00" y1="357.00" x2="70.00" y2="377.70" stroke="#2a2aff" stroke-width="1.1" />
<line x1="113.40" y1="350.60" x2="113.40" y2="377.70" stroke="#2a2aff" stroke-width="1.1" />
<line x1="72.50" y1="373.90" x2="111.00" y2="373.90" stroke="#2a2aff" stroke-width="1.1" />
<polygon points="70.30,373.90 73.50,372.10 73.50,375.70" fill="#2a2aff"/>
<polygon points="113.10,373.90 109.90,375.70 109.90,372.10" fill="#2a2aff"/>
<text x="87.30" y="382.80" font-family='"Liberation Sans", sans-serif' font-size="7.3" font-weight="normal" font-style="italic" fill="#2a2aff" text-anchor="start" stroke="#2a2aff" stroke-width="0.18" >Q</text>
<text x="92.90" y="384.60" font-family='"Liberation Sans", sans-serif' font-size="5.0" font-weight="normal" font-style="normal" fill="#2a2aff" text-anchor="start" stroke="#2a2aff" stroke-width="0.18" >C</text>
<line x1="35.00" y1="393.80" x2="137.00" y2="393.80" stroke="#111" stroke-width="1.0" />
<polygon points="32.80,393.80 36.00,392.00 36.00,395.60" fill="#111"/>
<polygon points="139.20,393.80 136.00,395.60 136.00,392.00" fill="#111"/>
<line x1="139.50" y1="386.00" x2="139.50" y2="397.20" stroke="#111" stroke-width="1.2" />
<text x="75.90" y="390.90" font-family='"Liberation Sans", sans-serif' font-size="7.3" font-weight="normal" font-style="italic" fill="#333" text-anchor="start" stroke="#333" stroke-width="0.18" >Q</text>
<text x="81.60" y="392.60" font-family='"Liberation Sans", sans-serif' font-size="5.0" font-weight="normal" font-style="italic" fill="#333" text-anchor="start" stroke="#333" stroke-width="0.18" >SC,max</text>
<text x="161.80" y="292.40" font-family='"Liberation Serif", serif' font-size="16" font-weight="bold" font-style="normal" fill="#000" text-anchor="start" >h</text>
<line x1="202.10" y1="288.20" x2="202.10" y2="397.00" stroke="#000" stroke-width="1.5" />
<line x1="199.60" y1="396.20" x2="315.50" y2="396.20" stroke="#000" stroke-width="1.5" />
<line x1="200.10" y1="396.20" x2="202.10" y2="396.20" stroke="#000" stroke-width="1.0" />
<text x="197.80" y="398.08" font-family='"Liberation Sans", sans-serif' font-size="6.6" font-weight="normal" font-style="normal" fill="#333" text-anchor="end" stroke="#333" stroke-width="0.18" >−60</text>
<line x1="200.10" y1="378.20" x2="202.10" y2="378.20" stroke="#000" stroke-width="1.0" />
<text x="197.80" y="381.08" font-family='"Liberation Sans", sans-serif' font-size="6.6" font-weight="normal" font-style="normal" fill="#333" text-anchor="end" stroke="#333" stroke-width="0.18" >−40</text>
<line x1="200.10" y1="364.60" x2="202.10" y2="364.60" stroke="#000" stroke-width="1.0" />
<text x="197.80" y="367.48" font-family='"Liberation Sans", sans-serif' font-size="6.6" font-weight="normal" font-style="normal" fill="#333" text-anchor="end" stroke="#333" stroke-width="0.18" >−20</text>
<line x1="200.10" y1="351.00" x2="202.10" y2="351.00" stroke="#000" stroke-width="1.0" />
<text x="197.80" y="353.88" font-family='"Liberation Sans", sans-serif' font-size="6.6" font-weight="normal" font-style="normal" fill="#333" text-anchor="end" stroke="#333" stroke-width="0.18" >0</text>
<line x1="200.10" y1="337.40" x2="202.10" y2="337.40" stroke="#000" stroke-width="1.0" />
<text x="197.80" y="340.28" font-family='"Liberation Sans", sans-serif' font-size="6.6" font-weight="normal" font-style="normal" fill="#333" text-anchor="end" stroke="#333" stroke-width="0.18" >20</text>
<line x1="200.10" y1="323.80" x2="202.10" y2="323.80" stroke="#000" stroke-width="1.0" />
<text x="197.80" y="326.68" font-family='"Liberation Sans", sans-serif' font-size="6.6" font-weight="normal" font-style="normal" fill="#333" text-anchor="end" stroke="#333" stroke-width="0.18" >40</text>
<line x1="200.10" y1="310.20" x2="202.10" y2="310.20" stroke="#000" stroke-width="1.0" />
<text x="197.80" y="313.08" font-family='"Liberation Sans", sans-serif' font-size="6.6" font-weight="normal" font-style="normal" fill="#333" text-anchor="end" stroke="#333" stroke-width="0.18" >60</text>
<line x1="200.10" y1="296.60" x2="202.10" y2="296.60" stroke="#000" stroke-width="1.0" />
<text x="197.80" y="299.48" font-family='"Liberation Sans", sans-serif' font-size="6.6" font-weight="normal" font-style="normal" fill="#333" text-anchor="end" stroke="#333" stroke-width="0.18" >80</text>
<line x1="202.10" y1="385.00" x2="203.40" y2="385.00" stroke="#000" stroke-width="0.8" />
<line x1="202.10" y1="371.40" x2="203.40" y2="371.40" stroke="#000" stroke-width="0.8" />
<line x1="202.10" y1="357.80" x2="203.40" y2="357.80" stroke="#000" stroke-width="0.8" />
<line x1="202.10" y1="344.20" x2="203.40" y2="344.20" stroke="#000" stroke-width="0.8" />
<line x1="202.10" y1="330.60" x2="203.40" y2="330.60" stroke="#000" stroke-width="0.8" />
<line x1="202.10" y1="317.00" x2="203.40" y2="317.00" stroke="#000" stroke-width="0.8" />
<line x1="202.10" y1="303.40" x2="203.40" y2="303.40" stroke="#000" stroke-width="0.8" />
<line x1="202.50" y1="396.20" x2="202.50" y2="398.20" stroke="#000" stroke-width="1.0" />
<text x="202.50" y="405.00" font-family='"Liberation Sans", sans-serif' font-size="6.6" font-weight="normal" font-style="normal" fill="#333" text-anchor="middle" stroke="#333" stroke-width="0.18" >0</text>
<line x1="218.30" y1="396.20" x2="218.30" y2="398.20" stroke="#000" stroke-width="1.0" />
<text x="218.30" y="405.00" font-family='"Liberation Sans", sans-serif' font-size="6.6" font-weight="normal" font-style="normal" fill="#333" text-anchor="middle" stroke="#333" stroke-width="0.18" >5</text>
<line x1="234.10" y1="396.20" x2="234.10" y2="398.20" stroke="#000" stroke-width="1.0" />
<text x="234.10" y="405.00" font-family='"Liberation Sans", sans-serif' font-size="6.6" font-weight="normal" font-style="normal" fill="#333" text-anchor="middle" stroke="#333" stroke-width="0.18" >10</text>
<line x1="249.90" y1="396.20" x2="249.90" y2="398.20" stroke="#000" stroke-width="1.0" />
<text x="249.90" y="405.00" font-family='"Liberation Sans", sans-serif' font-size="6.6" font-weight="normal" font-style="normal" fill="#333" text-anchor="middle" stroke="#333" stroke-width="0.18" >15</text>
<line x1="265.70" y1="396.20" x2="265.70" y2="398.20" stroke="#000" stroke-width="1.0" />
<text x="265.70" y="405.00" font-family='"Liberation Sans", sans-serif' font-size="6.6" font-weight="normal" font-style="normal" fill="#333" text-anchor="middle" stroke="#333" stroke-width="0.18" >20</text>
<line x1="281.50" y1="396.20" x2="281.50" y2="398.20" stroke="#000" stroke-width="1.0" />
<text x="281.50" y="405.00" font-family='"Liberation Sans", sans-serif' font-size="6.6" font-weight="normal" font-style="normal" fill="#333" text-anchor="middle" stroke="#333" stroke-width="0.18" >25</text>
<line x1="297.30" y1="396.20" x2="297.30" y2="398.20" stroke="#000" stroke-width="1.0" />
<text x="297.30" y="405.00" font-family='"Liberation Sans", sans-serif' font-size="6.6" font-weight="normal" font-style="normal" fill="#333" text-anchor="middle" stroke="#333" stroke-width="0.18" >30</text>
<line x1="313.10" y1="396.20" x2="313.10" y2="398.20" stroke="#000" stroke-width="1.0" />
<text x="313.10" y="405.00" font-family='"Liberation Sans", sans-serif' font-size="6.6" font-weight="normal" font-style="normal" fill="#333" text-anchor="middle" stroke="#333" stroke-width="0.18" >35</text>
<line x1="205.66" y1="396.20" x2="205.66" y2="395.00" stroke="#000" stroke-width="0.7" />
<line x1="208.82" y1="396.20" x2="208.82" y2="395.00" stroke="#000" stroke-width="0.7" />
<line x1="211.98" y1="396.20" x2="211.98" y2="395.00" stroke="#000" stroke-width="0.7" />
<line x1="215.14" y1="396.20" x2="215.14" y2="395.00" stroke="#000" stroke-width="0.7" />
<line x1="221.46" y1="396.20" x2="221.46" y2="395.00" stroke="#000" stroke-width="0.7" />
<line x1="224.62" y1="396.20" x2="224.62" y2="395.00" stroke="#000" stroke-width="0.7" />
<line x1="227.78" y1="396.20" x2="227.78" y2="395.00" stroke="#000" stroke-width="0.7" />
<line x1="230.94" y1="396.20" x2="230.94" y2="395.00" stroke="#000" stroke-width="0.7" />
<line x1="237.26" y1="396.20" x2="237.26" y2="395.00" stroke="#000" stroke-width="0.7" />
<line x1="240.42" y1="396.20" x2="240.42" y2="395.00" stroke="#000" stroke-width="0.7" />
<line x1="243.58" y1="396.20" x2="243.58" y2="395.00" stroke="#000" stroke-width="0.7" />
<line x1="246.74" y1="396.20" x2="246.74" y2="395.00" stroke="#000" stroke-width="0.7" />
<line x1="253.06" y1="396.20" x2="253.06" y2="395.00" stroke="#000" stroke-width="0.7" />
<line x1="256.22" y1="396.20" x2="256.22" y2="395.00" stroke="#000" stroke-width="0.7" />
<line x1="259.38" y1="396.20" x2="259.38" y2="395.00" stroke="#000" stroke-width="0.7" />
<line x1="262.54" y1="396.20" x2="262.54" y2="395.00" stroke="#000" stroke-width="0.7" />
<line x1="268.86" y1="396.20" x2="268.86" y2="395.00" stroke="#000" stroke-width="0.7" />
<line x1="272.02" y1="396.20" x2="272.02" y2="395.00" stroke="#000" stroke-width="0.7" />
<line x1="275.18" y1="396.20" x2="275.18" y2="395.00" stroke="#000" stroke-width="0.7" />
<line x1="278.34" y1="396.20" x2="278.34" y2="395.00" stroke="#000" stroke-width="0.7" />
<line x1="284.66" y1="396.20" x2="284.66" y2="395.00" stroke="#000" stroke-width="0.7" />
<line x1="287.82" y1="396.20" x2="287.82" y2="395.00" stroke="#000" stroke-width="0.7" />
<line x1="290.98" y1="396.20" x2="290.98" y2="395.00" stroke="#000" stroke-width="0.7" />
<line x1="294.14" y1="396.20" x2="294.14" y2="395.00" stroke="#000" stroke-width="0.7" />
<line x1="300.46" y1="396.20" x2="300.46" y2="395.00" stroke="#000" stroke-width="0.7" />
<line x1="303.62" y1="396.20" x2="303.62" y2="395.00" stroke="#000" stroke-width="0.7" />
<line x1="306.78" y1="396.20" x2="306.78" y2="395.00" stroke="#000" stroke-width="0.7" />
<line x1="309.94" y1="396.20" x2="309.94" y2="395.00" stroke="#000" stroke-width="0.7" />
<text x="180.20" y="343.60" font-family='"Liberation Sans", sans-serif' font-size="6.6" font-weight="normal" font-style="normal" fill="#333" text-anchor="middle" transform="rotate(-90 180.2 343.6)" stroke="#333" stroke-width="0.18" >Voltage (V)</text>
<text x="256.70" y="415.60" font-family='"Liberation Sans", sans-serif' font-size="6.6" font-weight="normal" font-style="normal" fill="#333" text-anchor="middle" stroke="#333" stroke-width="0.18" >Charge (nC)</text>
<text x="220.90" y="290.60" font-family='"Liberation Sans", sans-serif' font-size="6.6" font-weight="normal" font-style="normal" fill="#3535ff" text-anchor="start" stroke="#3535ff" stroke-width="0.18" >CMEO with <tspan font-style="italic">R</tspan> = 100 MΩ</text>
<line x1="205.30" y1="299.10" x2="205.30" y2="317.30" stroke="#2a2a2a" stroke-width="1.2" />
<line x1="242.00" y1="299.10" x2="242.00" y2="317.30" stroke="#2a2a2a" stroke-width="1.2" />
<line x1="205.30" y1="299.10" x2="211.39" y2="299.10" stroke="#2a2a2a" stroke-width="1.2" />
<line x1="237.30" y1="299.10" x2="242.00" y2="299.10" stroke="#2a2a2a" stroke-width="1.2" />
<line x1="205.30" y1="308.56" x2="216.20" y2="308.56" stroke="#2a2a2a" stroke-width="1.2" />
<line x1="232.90" y1="308.56" x2="242.00" y2="308.56" stroke="#2a2a2a" stroke-width="1.2" />
<rect x="211.39" y="296.00" width="25.91" height="6.90" fill="#fff" stroke="#2a2a2a" stroke-width="1.2" rx="0.8"/>
<rect x="216.20" y="305.66" width="16.70" height="6.30" fill="#fff" stroke="#2a2a2a" stroke-width="1.2" rx="0.8"/>
<text x="224.35" y="301.70" font-family='"Liberation Sans", sans-serif' font-size="5.6" font-weight="normal" font-style="normal" fill="#3a3a3a" text-anchor="middle" stroke="#3a3a3a" stroke-width="0.18" >TENG</text>
<text x="224.55" y="310.96" font-family='"Liberation Sans", sans-serif' font-size="5.6" font-weight="normal" font-style="normal" fill="#3a3a3a" text-anchor="middle" stroke="#3a3a3a" stroke-width="0.18" >R</text>
<line x1="204.80" y1="317.30" x2="218.59" y2="317.30" stroke="#2a2a2a" stroke-width="1.2" />
<line x1="218.59" y1="317.30" x2="226.81" y2="313.50" stroke="#2a2a2a" stroke-width="1.2" />
<line x1="228.20" y1="317.30" x2="242.50" y2="317.30" stroke="#2a2a2a" stroke-width="1.2" />
<line x1="278.30" y1="307.40" x2="278.30" y2="325.90" stroke="#2a2a2a" stroke-width="1.2" />
<line x1="315.30" y1="307.40" x2="315.30" y2="325.90" stroke="#2a2a2a" stroke-width="1.2" />
<line x1="278.30" y1="307.40" x2="284.44" y2="307.40" stroke="#2a2a2a" stroke-width="1.2" />
<line x1="310.56" y1="307.40" x2="315.30" y2="307.40" stroke="#2a2a2a" stroke-width="1.2" />
<line x1="278.30" y1="317.02" x2="289.29" y2="317.02" stroke="#2a2a2a" stroke-width="1.2" />
<line x1="306.12" y1="317.02" x2="315.30" y2="317.02" stroke="#2a2a2a" stroke-width="1.2" />
<rect x="284.44" y="304.30" width="26.12" height="6.90" fill="#fff" stroke="#2a2a2a" stroke-width="1.2" rx="0.8"/>
<rect x="289.29" y="314.12" width="16.84" height="6.30" fill="#fff" stroke="#2a2a2a" stroke-width="1.2" rx="0.8"/>
<text x="297.50" y="310.00" font-family='"Liberation Sans", sans-serif' font-size="5.6" font-weight="normal" font-style="normal" fill="#3a3a3a" text-anchor="middle" stroke="#3a3a3a" stroke-width="0.18" >TENG</text>
<text x="297.71" y="319.42" font-family='"Liberation Sans", sans-serif' font-size="5.6" font-weight="normal" font-style="normal" fill="#3a3a3a" text-anchor="middle" stroke="#3a3a3a" stroke-width="0.18" >R</text>
<line x1="277.80" y1="325.90" x2="315.80" y2="325.90" stroke="#2a2a2a" stroke-width="1.2" />
<line x1="207.60" y1="371.90" x2="207.60" y2="389.70" stroke="#2a2a2a" stroke-width="1.2" />
<line x1="244.50" y1="371.90" x2="244.50" y2="389.70" stroke="#2a2a2a" stroke-width="1.2" />
<line x1="207.60" y1="371.90" x2="213.73" y2="371.90" stroke="#2a2a2a" stroke-width="1.2" />
<line x1="239.78" y1="371.90" x2="244.50" y2="371.90" stroke="#2a2a2a" stroke-width="1.2" />
<line x1="207.60" y1="381.16" x2="218.56" y2="381.16" stroke="#2a2a2a" stroke-width="1.2" />
<line x1="235.35" y1="381.16" x2="244.50" y2="381.16" stroke="#2a2a2a" stroke-width="1.2" />
<rect x="213.73" y="368.80" width="26.05" height="6.90" fill="#fff" stroke="#2a2a2a" stroke-width="1.2" rx="0.8"/>
<rect x="218.56" y="378.26" width="16.79" height="6.30" fill="#fff" stroke="#2a2a2a" stroke-width="1.2" rx="0.8"/>
<text x="226.75" y="374.50" font-family='"Liberation Sans", sans-serif' font-size="5.6" font-weight="normal" font-style="normal" fill="#3a3a3a" text-anchor="middle" stroke="#3a3a3a" stroke-width="0.18" >TENG</text>
<text x="226.95" y="383.56" font-family='"Liberation Sans", sans-serif' font-size="5.6" font-weight="normal" font-style="normal" fill="#3a3a3a" text-anchor="middle" stroke="#3a3a3a" stroke-width="0.18" >R</text>
<line x1="207.10" y1="389.70" x2="245.00" y2="389.70" stroke="#2a2a2a" stroke-width="1.2" />
<line x1="305.00" y1="368.60" x2="305.00" y2="386.90" stroke="#2a2a2a" stroke-width="1.2" />
<line x1="342.30" y1="368.60" x2="342.30" y2="386.90" stroke="#2a2a2a" stroke-width="1.2" />
<line x1="305.00" y1="368.60" x2="311.19" y2="368.60" stroke="#2a2a2a" stroke-width="1.2" />
<line x1="337.53" y1="368.60" x2="342.30" y2="368.60" stroke="#2a2a2a" stroke-width="1.2" />
<line x1="305.00" y1="378.12" x2="316.08" y2="378.12" stroke="#2a2a2a" stroke-width="1.2" />
<line x1="333.05" y1="378.12" x2="342.30" y2="378.12" stroke="#2a2a2a" stroke-width="1.2" />
<rect x="311.19" y="365.50" width="26.33" height="6.90" fill="#fff" stroke="#2a2a2a" stroke-width="1.2" rx="0.8"/>
<rect x="316.08" y="375.22" width="16.97" height="6.30" fill="#fff" stroke="#2a2a2a" stroke-width="1.2" rx="0.8"/>
<text x="324.36" y="371.20" font-family='"Liberation Sans", sans-serif' font-size="5.6" font-weight="normal" font-style="normal" fill="#3a3a3a" text-anchor="middle" stroke="#3a3a3a" stroke-width="0.18" >TENG</text>
<text x="324.56" y="380.52" font-family='"Liberation Sans", sans-serif' font-size="5.6" font-weight="normal" font-style="normal" fill="#3a3a3a" text-anchor="middle" stroke="#3a3a3a" stroke-width="0.18" >R</text>
<line x1="304.50" y1="386.90" x2="318.50" y2="386.90" stroke="#2a2a2a" stroke-width="1.2" />
<line x1="318.50" y1="386.90" x2="326.86" y2="383.10" stroke="#2a2a2a" stroke-width="1.2" />
<line x1="328.28" y1="386.90" x2="342.80" y2="386.90" stroke="#2a2a2a" stroke-width="1.2" />
<text x="286.80" y="333.60" font-family='"Liberation Sans", sans-serif' font-size="6.6" font-weight="normal" font-style="normal" fill="#222" text-anchor="start" stroke="#222" stroke-width="0.18" ><tspan font-style="italic">x</tspan> = <tspan font-style="italic">x</tspan><tspan font-size="5" dy="1.5">max</tspan></text>
<text x="214.30" y="366.60" font-family='"Liberation Sans", sans-serif' font-size="6.6" font-weight="normal" font-style="normal" fill="#222" text-anchor="start" stroke="#222" stroke-width="0.18" ><tspan font-style="italic">x</tspan> = 0</text>
<line x1="202.10" y1="350.70" x2="308.20" y2="350.70" stroke="#333" stroke-width="1.3" />
<line x1="308.20" y1="345.10" x2="308.20" y2="353.40" stroke="#111" stroke-width="1.3" />
<circle cx="202.80" cy="350.90" r="1.30" fill="#111" stroke="none" stroke-width="0" />
<circle cx="307.60" cy="350.90" r="1.30" fill="#111" stroke="none" stroke-width="0" />
<polyline points="202.20,350.90 202.30,350.39 202.42,349.72 202.55,348.92 202.71,348.02 202.90,347.07 203.13,346.10 203.39,345.13 203.70,344.20 204.05,343.29 204.44,342.34 204.87,341.37 205.34,340.39 205.83,339.42 206.36,338.45 206.92,337.51 207.50,336.60 208.11,335.72 208.75,334.86 209.41,334.01 210.11,333.18 210.84,332.37 211.60,331.56 212.38,330.78 213.20,330.00 214.06,329.23 214.97,328.47 215.91,327.71 216.88,326.98 217.87,326.26 218.86,325.57 219.84,324.92 220.80,324.30 221.75,323.72 222.70,323.17 223.65,322.65 224.60,322.16 225.55,321.70 226.50,321.27 227.45,320.87 228.40,320.50 229.35,320.16 230.30,319.85 231.25,319.56 232.20,319.31 233.15,319.09 234.10,318.90 235.05,318.73 236.00,318.60 236.95,318.50 237.90,318.42 238.85,318.38 239.80,318.36 240.75,318.38 241.70,318.42 242.65,318.50 243.60,318.60 244.56,318.74 245.52,318.92 246.49,319.13 247.46,319.38 248.42,319.64 249.36,319.92 250.29,320.21 251.20,320.50 252.13,320.83 253.10,321.20 254.07,321.61 255.02,322.02 255.92,322.42 256.72,322.78 257.39,323.08 257.90,323.30" fill="none" stroke="#ff2020" stroke-width="1.6" stroke-linejoin="round" stroke-linecap="round" />
<polyline points="257.90,323.30 283.00,337.00 308.00,350.80" fill="none" stroke="#22dd22" stroke-width="1.6" stroke-linejoin="round" stroke-linecap="round" />
<polyline points="308.00,350.80 307.94,351.47 307.88,352.39 307.81,353.47 307.72,354.68 307.61,355.92 307.46,357.15 307.26,358.30 307.00,359.30 306.70,360.18 306.36,361.02 305.99,361.81 305.58,362.56 305.12,363.28 304.61,363.98 304.04,364.65 303.40,365.30 302.70,365.94 301.96,366.56 301.15,367.16 300.29,367.73 299.38,368.26 298.41,368.75 297.38,369.20 296.30,369.60 295.14,369.94 293.91,370.21 292.60,370.44 291.25,370.63 289.86,370.78 288.44,370.93 287.02,371.06 285.60,371.20 284.16,371.34 282.67,371.47 281.15,371.59 279.61,371.69 278.08,371.78 276.58,371.84 275.11,371.89 273.70,371.90 272.28,371.87 270.81,371.81 269.34,371.71 267.91,371.59 266.57,371.47 265.37,371.36 264.37,371.26 263.60,371.20" fill="none" stroke="#2020ff" stroke-width="1.6" stroke-linejoin="round" stroke-linecap="round" />
<polyline points="263.60,371.20 232.20,360.90 202.20,350.90" fill="none" stroke="#ee22ee" stroke-width="1.6" stroke-linejoin="round" stroke-linecap="round" />
<polygon points="225.50,323.20 222.59,326.72 220.97,322.62" fill="#ff2020"/>
<polygon points="281.00,336.00 276.43,336.01 278.54,332.15" fill="#22dd22"/>
<polygon points="291.00,369.90 294.63,367.13 295.28,371.48" fill="#2020ff"/>
<polygon points="230.00,360.20 234.49,359.36 233.12,363.54" fill="#ee22ee"/>
<text x="225.60" y="334.20" font-family='"Liberation Sans", sans-serif' font-size="7.2" font-weight="normal" font-style="normal" fill="#ff2020" text-anchor="middle" transform="rotate(-33 225.6 334.2)" stroke="#ff2020" stroke-width="0.18" >Step 1</text>
<text x="271.40" y="339.10" font-family='"Liberation Sans", sans-serif' font-size="7.2" font-weight="normal" font-style="normal" fill="#22dd22" text-anchor="middle" transform="rotate(30 271.4 339.1)" stroke="#22dd22" stroke-width="0.18" >Step 2</text>
<text x="292.70" y="366.40" font-family='"Liberation Sans", sans-serif' font-size="7.2" font-weight="normal" font-style="normal" fill="#2020ff" text-anchor="middle" transform="rotate(-30 292.7 366.4)" stroke="#2020ff" stroke-width="0.18" >Step 3</text>
<text x="241.70" y="360.80" font-family='"Liberation Sans", sans-serif' font-size="7.2" font-weight="normal" font-style="normal" fill="#ee22ee" text-anchor="middle" transform="rotate(20 241.7 360.8)" stroke="#ee22ee" stroke-width="0.18" >Step 4</text>
<text x="232.20" y="347.30" font-family='"Liberation Sans", sans-serif' font-size="6.6" font-weight="normal" font-style="normal" fill="#333" text-anchor="start" stroke="#333" stroke-width="0.18" ><tspan font-style="italic">Q</tspan><tspan font-size="4.8" dy="1.5">C</tspan><tspan dy="-1.5">=</tspan><tspan font-style="italic">Q</tspan><tspan font-size="4.8" dy="1.5">SC,max</tspan></text>
<text x="365.80" y="291.80" font-family='"Liberation Serif", serif' font-size="16" font-weight="bold" font-style="normal" fill="#000" text-anchor="start" >i</text>
<line x1="388.90" y1="288.20" x2="388.90" y2="395.20" stroke="#000" stroke-width="1.5" />
<line x1="386.40" y1="394.40" x2="501.70" y2="394.40" stroke="#000" stroke-width="1.5" />
<line x1="386.90" y1="394.40" x2="388.90" y2="394.40" stroke="#000" stroke-width="1.0" />
<text x="384.60" y="397.28" font-family='"Liberation Sans", sans-serif' font-size="6.6" font-weight="normal" font-style="normal" fill="#333" text-anchor="end" stroke="#333" stroke-width="0.18" >−60</text>
<line x1="386.90" y1="378.10" x2="388.90" y2="378.10" stroke="#000" stroke-width="1.0" />
<text x="384.60" y="380.98" font-family='"Liberation Sans", sans-serif' font-size="6.6" font-weight="normal" font-style="normal" fill="#333" text-anchor="end" stroke="#333" stroke-width="0.18" >−40</text>
<line x1="386.90" y1="364.30" x2="388.90" y2="364.30" stroke="#000" stroke-width="1.0" />
<text x="384.60" y="367.18" font-family='"Liberation Sans", sans-serif' font-size="6.6" font-weight="normal" font-style="normal" fill="#333" text-anchor="end" stroke="#333" stroke-width="0.18" >−20</text>
<line x1="386.90" y1="350.50" x2="388.90" y2="350.50" stroke="#000" stroke-width="1.0" />
<text x="384.60" y="353.38" font-family='"Liberation Sans", sans-serif' font-size="6.6" font-weight="normal" font-style="normal" fill="#333" text-anchor="end" stroke="#333" stroke-width="0.18" >0</text>
<line x1="386.90" y1="336.70" x2="388.90" y2="336.70" stroke="#000" stroke-width="1.0" />
<text x="384.60" y="339.58" font-family='"Liberation Sans", sans-serif' font-size="6.6" font-weight="normal" font-style="normal" fill="#333" text-anchor="end" stroke="#333" stroke-width="0.18" >20</text>
<line x1="386.90" y1="322.90" x2="388.90" y2="322.90" stroke="#000" stroke-width="1.0" />
<text x="384.60" y="325.78" font-family='"Liberation Sans", sans-serif' font-size="6.6" font-weight="normal" font-style="normal" fill="#333" text-anchor="end" stroke="#333" stroke-width="0.18" >40</text>
<line x1="386.90" y1="309.10" x2="388.90" y2="309.10" stroke="#000" stroke-width="1.0" />
<text x="384.60" y="311.98" font-family='"Liberation Sans", sans-serif' font-size="6.6" font-weight="normal" font-style="normal" fill="#333" text-anchor="end" stroke="#333" stroke-width="0.18" >60</text>
<line x1="386.90" y1="295.30" x2="388.90" y2="295.30" stroke="#000" stroke-width="1.0" />
<text x="384.60" y="298.18" font-family='"Liberation Sans", sans-serif' font-size="6.6" font-weight="normal" font-style="normal" fill="#333" text-anchor="end" stroke="#333" stroke-width="0.18" >80</text>
<line x1="388.90" y1="385.00" x2="390.20" y2="385.00" stroke="#000" stroke-width="0.8" />
<line x1="388.90" y1="371.20" x2="390.20" y2="371.20" stroke="#000" stroke-width="0.8" />
<line x1="388.90" y1="357.40" x2="390.20" y2="357.40" stroke="#000" stroke-width="0.8" />
<line x1="388.90" y1="343.60" x2="390.20" y2="343.60" stroke="#000" stroke-width="0.8" />
<line x1="388.90" y1="329.80" x2="390.20" y2="329.80" stroke="#000" stroke-width="0.8" />
<line x1="388.90" y1="316.00" x2="390.20" y2="316.00" stroke="#000" stroke-width="0.8" />
<line x1="388.90" y1="302.20" x2="390.20" y2="302.20" stroke="#000" stroke-width="0.8" />
<line x1="389.20" y1="394.40" x2="389.20" y2="396.40" stroke="#000" stroke-width="1.0" />
<text x="389.20" y="404.00" font-family='"Liberation Sans", sans-serif' font-size="6.6" font-weight="normal" font-style="normal" fill="#333" text-anchor="middle" stroke="#333" stroke-width="0.18" >0</text>
<line x1="405.17" y1="394.40" x2="405.17" y2="396.40" stroke="#000" stroke-width="1.0" />
<text x="405.17" y="404.00" font-family='"Liberation Sans", sans-serif' font-size="6.6" font-weight="normal" font-style="normal" fill="#333" text-anchor="middle" stroke="#333" stroke-width="0.18" >5</text>
<line x1="421.14" y1="394.40" x2="421.14" y2="396.40" stroke="#000" stroke-width="1.0" />
<text x="421.14" y="404.00" font-family='"Liberation Sans", sans-serif' font-size="6.6" font-weight="normal" font-style="normal" fill="#333" text-anchor="middle" stroke="#333" stroke-width="0.18" >10</text>
<line x1="437.11" y1="394.40" x2="437.11" y2="396.40" stroke="#000" stroke-width="1.0" />
<text x="437.11" y="404.00" font-family='"Liberation Sans", sans-serif' font-size="6.6" font-weight="normal" font-style="normal" fill="#333" text-anchor="middle" stroke="#333" stroke-width="0.18" >15</text>
<line x1="453.08" y1="394.40" x2="453.08" y2="396.40" stroke="#000" stroke-width="1.0" />
<text x="453.08" y="404.00" font-family='"Liberation Sans", sans-serif' font-size="6.6" font-weight="normal" font-style="normal" fill="#333" text-anchor="middle" stroke="#333" stroke-width="0.18" >20</text>
<line x1="469.05" y1="394.40" x2="469.05" y2="396.40" stroke="#000" stroke-width="1.0" />
<text x="469.05" y="404.00" font-family='"Liberation Sans", sans-serif' font-size="6.6" font-weight="normal" font-style="normal" fill="#333" text-anchor="middle" stroke="#333" stroke-width="0.18" >25</text>
<line x1="485.02" y1="394.40" x2="485.02" y2="396.40" stroke="#000" stroke-width="1.0" />
<text x="485.02" y="404.00" font-family='"Liberation Sans", sans-serif' font-size="6.6" font-weight="normal" font-style="normal" fill="#333" text-anchor="middle" stroke="#333" stroke-width="0.18" >30</text>
<line x1="500.99" y1="394.40" x2="500.99" y2="396.40" stroke="#000" stroke-width="1.0" />
<text x="500.99" y="404.00" font-family='"Liberation Sans", sans-serif' font-size="6.6" font-weight="normal" font-style="normal" fill="#333" text-anchor="middle" stroke="#333" stroke-width="0.18" >35</text>
<line x1="392.39" y1="394.40" x2="392.39" y2="393.20" stroke="#000" stroke-width="0.7" />
<line x1="395.59" y1="394.40" x2="395.59" y2="393.20" stroke="#000" stroke-width="0.7" />
<line x1="398.78" y1="394.40" x2="398.78" y2="393.20" stroke="#000" stroke-width="0.7" />
<line x1="401.98" y1="394.40" x2="401.98" y2="393.20" stroke="#000" stroke-width="0.7" />
<line x1="408.36" y1="394.40" x2="408.36" y2="393.20" stroke="#000" stroke-width="0.7" />
<line x1="411.56" y1="394.40" x2="411.56" y2="393.20" stroke="#000" stroke-width="0.7" />
<line x1="414.75" y1="394.40" x2="414.75" y2="393.20" stroke="#000" stroke-width="0.7" />
<line x1="417.95" y1="394.40" x2="417.95" y2="393.20" stroke="#000" stroke-width="0.7" />
<line x1="424.33" y1="394.40" x2="424.33" y2="393.20" stroke="#000" stroke-width="0.7" />
<line x1="427.53" y1="394.40" x2="427.53" y2="393.20" stroke="#000" stroke-width="0.7" />
<line x1="430.72" y1="394.40" x2="430.72" y2="393.20" stroke="#000" stroke-width="0.7" />
<line x1="433.92" y1="394.40" x2="433.92" y2="393.20" stroke="#000" stroke-width="0.7" />
<line x1="440.30" y1="394.40" x2="440.30" y2="393.20" stroke="#000" stroke-width="0.7" />
<line x1="443.50" y1="394.40" x2="443.50" y2="393.20" stroke="#000" stroke-width="0.7" />
<line x1="446.69" y1="394.40" x2="446.69" y2="393.20" stroke="#000" stroke-width="0.7" />
<line x1="449.89" y1="394.40" x2="449.89" y2="393.20" stroke="#000" stroke-width="0.7" />
<line x1="456.27" y1="394.40" x2="456.27" y2="393.20" stroke="#000" stroke-width="0.7" />
<line x1="459.47" y1="394.40" x2="459.47" y2="393.20" stroke="#000" stroke-width="0.7" />
<line x1="462.66" y1="394.40" x2="462.66" y2="393.20" stroke="#000" stroke-width="0.7" />
<line x1="465.86" y1="394.40" x2="465.86" y2="393.20" stroke="#000" stroke-width="0.7" />
<line x1="472.24" y1="394.40" x2="472.24" y2="393.20" stroke="#000" stroke-width="0.7" />
<line x1="475.44" y1="394.40" x2="475.44" y2="393.20" stroke="#000" stroke-width="0.7" />
<line x1="478.63" y1="394.40" x2="478.63" y2="393.20" stroke="#000" stroke-width="0.7" />
<line x1="481.83" y1="394.40" x2="481.83" y2="393.20" stroke="#000" stroke-width="0.7" />
<line x1="488.21" y1="394.40" x2="488.21" y2="393.20" stroke="#000" stroke-width="0.7" />
<line x1="491.41" y1="394.40" x2="491.41" y2="393.20" stroke="#000" stroke-width="0.7" />
<line x1="494.60" y1="394.40" x2="494.60" y2="393.20" stroke="#000" stroke-width="0.7" />
<line x1="497.80" y1="394.40" x2="497.80" y2="393.20" stroke="#000" stroke-width="0.7" />
<text x="367.20" y="343.60" font-family='"Liberation Sans", sans-serif' font-size="6.6" font-weight="normal" font-style="normal" fill="#333" text-anchor="middle" transform="rotate(-90 367.2 343.6)" stroke="#333" stroke-width="0.18" >Voltage (V)</text>
<text x="444.50" y="414.50" font-family='"Liberation Sans", sans-serif' font-size="6.6" font-weight="normal" font-style="normal" fill="#333" text-anchor="middle" stroke="#333" stroke-width="0.18" >Charge (nC)</text>
<polyline points="389.30,350.40 391.71,350.28 394.95,350.10 398.81,349.89 403.09,349.67 407.56,349.44 412.01,349.23 416.23,349.04 420.00,348.90 423.40,348.80 426.65,348.72 429.79,348.67 432.86,348.63 435.88,348.61 438.88,348.60 441.91,348.60 445.00,348.60 448.12,348.61 451.23,348.62 454.34,348.65 457.45,348.69 460.57,348.74 463.69,348.81 466.84,348.89 470.00,349.00 473.36,349.15 477.00,349.33 480.75,349.55 484.46,349.77 487.98,350.00 491.15,350.20 493.80,350.38 495.80,350.50" fill="none" stroke="#33e033" stroke-width="1.6" stroke-linejoin="round" stroke-linecap="round" />
<polyline points="389.30,350.40 391.71,350.53 394.95,350.72 398.81,350.94 403.09,351.17 407.56,351.42 412.01,351.65 416.23,351.85 420.00,352.00 423.40,352.11 426.65,352.20 429.79,352.27 432.86,352.32 435.88,352.36 438.88,352.38 441.91,352.40 445.00,352.40 448.12,352.40 451.23,352.38 454.34,352.36 457.45,352.32 460.57,352.27 463.69,352.20 466.84,352.11 470.00,352.00 473.36,351.85 477.00,351.67 480.75,351.45 484.46,351.23 487.98,351.00 491.15,350.80 493.80,350.62 495.80,350.50" fill="none" stroke="#33e033" stroke-width="1.6" stroke-linejoin="round" stroke-linecap="round" />
<polyline points="389.30,350.40 389.62,349.93 390.04,349.29 390.54,348.52 391.09,347.68 391.70,346.80 392.33,345.94 392.97,345.12 393.60,344.40 394.24,343.76 394.89,343.15 395.57,342.56 396.28,342.00 397.00,341.46 397.74,340.93 398.51,340.41 399.30,339.90 400.12,339.40 400.98,338.91 401.86,338.44 402.76,337.97 403.68,337.53 404.59,337.10 405.50,336.69 406.40,336.30 407.29,335.93 408.17,335.58 409.06,335.25 409.95,334.93 410.84,334.63 411.72,334.34 412.61,334.07 413.50,333.80 414.39,333.55 415.27,333.31 416.16,333.08 417.04,332.87 417.93,332.67 418.82,332.47 419.71,332.28 420.60,332.10 421.50,331.92 422.40,331.75 423.30,331.59 424.20,331.43 425.10,331.28 426.00,331.15 426.90,331.02 427.80,330.90 428.67,330.79 429.51,330.69 430.34,330.59 431.18,330.51 432.03,330.43 432.92,330.37 433.87,330.33 434.90,330.30 436.02,330.29 437.23,330.30 438.51,330.32 439.82,330.35 441.14,330.40 442.44,330.45 443.71,330.52 444.90,330.60 446.03,330.69 447.11,330.78 448.17,330.89 449.21,331.01 450.23,331.14 451.24,331.28 452.27,331.44 453.30,331.60 454.36,331.78 455.44,331.97 456.52,332.18 457.60,332.39 458.66,332.62 459.69,332.84 460.67,333.07 461.60,333.30 462.50,333.54 463.40,333.81 464.28,334.08 465.12,334.36 465.89,334.62 466.58,334.85 467.15,335.05 467.60,335.20" fill="none" stroke="#2a2aff" stroke-width="1.6" stroke-linejoin="round" stroke-linecap="round" />
<polyline points="389.30,350.40 390.92,350.99 393.10,351.79 395.69,352.74 398.56,353.79 401.57,354.89 404.57,355.98 407.43,357.00 410.00,357.90 412.32,358.72 414.52,359.53 416.65,360.31 418.74,361.06 420.83,361.78 422.94,362.44 425.12,363.05 427.40,363.60 429.78,364.10 432.22,364.55 434.71,364.96 437.24,365.32 439.79,365.62 442.35,365.85 444.89,366.02 447.40,366.10 449.91,366.11 452.44,366.04 454.98,365.91 457.51,365.71 460.02,365.45 462.50,365.13 464.93,364.74 467.30,364.30 469.66,363.77 472.05,363.13 474.43,362.42 476.75,361.65 478.99,360.86 481.10,360.07 483.05,359.31 484.80,358.60 486.35,357.93 487.74,357.26 488.99,356.59 490.10,355.94 491.09,355.31 491.98,354.70 492.78,354.13 493.50,353.60 494.11,353.10 494.58,352.62 494.93,352.16 495.19,351.74 495.39,351.35 495.54,351.01 495.67,350.73 495.80,350.50" fill="none" stroke="#2a2aff" stroke-width="1.6" stroke-linejoin="round" stroke-linecap="round" />
<polyline points="389.30,350.40 389.62,349.65 390.04,348.65 390.54,347.46 391.09,346.14 391.70,344.76 392.33,343.36 392.97,342.02 393.60,340.80 394.24,339.66 394.89,338.53 395.57,337.41 396.28,336.30 397.00,335.21 397.74,334.15 398.51,333.11 399.30,332.10 400.12,331.11 400.98,330.12 401.86,329.16 402.76,328.22 403.68,327.31 404.59,326.45 405.50,325.65 406.40,324.90 407.29,324.22 408.17,323.59 409.06,323.02 409.95,322.49 410.84,322.00 411.72,321.54 412.61,321.11 413.50,320.70 414.39,320.32 415.27,319.97 416.16,319.66 417.04,319.38 417.93,319.13 418.82,318.90 419.71,318.69 420.60,318.50 421.50,318.33 422.40,318.19 423.30,318.07 424.20,317.97 425.10,317.89 426.00,317.84 426.90,317.81 427.80,317.80 428.71,317.81 429.63,317.85 430.56,317.92 431.49,318.00 432.40,318.10 433.28,318.22 434.11,318.36 434.90,318.50 435.64,318.67 436.36,318.87 437.05,319.09 437.70,319.33 438.32,319.56 438.89,319.79 439.42,320.01 439.90,320.20 440.33,320.37 440.72,320.54 441.06,320.70 441.36,320.86 441.62,320.99 441.85,321.12 442.04,321.22 442.20,321.30" fill="none" stroke="#ff2a2a" stroke-width="1.6" stroke-linejoin="round" stroke-linecap="round" />
<polyline points="455.00,371.20 455.74,371.35 456.70,371.56 457.84,371.83 459.12,372.11 460.50,372.37 461.93,372.59 463.38,372.75 464.80,372.80 466.25,372.77 467.79,372.68 469.40,372.55 471.04,372.36 472.68,372.12 474.29,371.83 475.84,371.49 477.30,371.10 478.70,370.64 480.06,370.11 481.40,369.52 482.69,368.89 483.94,368.22 485.13,367.52 486.25,366.81 487.30,366.10 488.28,365.40 489.21,364.69 490.07,363.96 490.88,363.22 491.63,362.44 492.31,361.62 492.94,360.74 493.50,359.80 493.99,358.72 494.40,357.47 494.75,356.12 495.04,354.76 495.28,353.44 495.48,352.24 495.65,351.24 495.80,350.50" fill="none" stroke="#ff2a2a" stroke-width="1.6" stroke-linejoin="round" stroke-linecap="round" />
<polyline points="389.30,350.40 389.37,350.04 389.46,349.59 389.57,349.04 389.69,348.43 389.82,347.76 389.97,347.04 390.13,346.28 390.30,345.50 390.47,344.70 390.65,343.86 390.84,342.98 391.04,342.06 391.26,341.08 391.50,340.05 391.78,338.96 392.10,337.80 392.46,336.54 392.87,335.18 393.32,333.73 393.79,332.24 394.27,330.74 394.76,329.24 395.24,327.78 395.70,326.40 396.15,325.06 396.59,323.73 397.02,322.42 397.46,321.13 397.91,319.88 398.36,318.66 398.82,317.50 399.30,316.40 399.80,315.35 400.31,314.33 400.83,313.35 401.36,312.43 401.89,311.55 402.43,310.73 402.97,309.98 403.50,309.30 404.03,308.70 404.57,308.17 405.12,307.72 405.66,307.32 406.21,306.97 406.74,306.65 407.28,306.37 407.80,306.10 408.32,305.86 408.85,305.67 409.38,305.52 409.91,305.40 410.42,305.31 410.91,305.23 411.37,305.16 411.80,305.10 412.21,305.05 412.61,305.03 412.99,305.03 413.35,305.04 413.68,305.06 413.97,305.08 414.21,305.09 414.40,305.10" fill="none" stroke="#f030f0" stroke-width="1.6" stroke-linejoin="round" stroke-linecap="round" />
<polyline points="474.80,377.60 475.05,377.69 475.35,377.84 475.69,378.02 476.10,378.21 476.58,378.37 477.13,378.49 477.77,378.54 478.50,378.50 479.38,378.38 480.43,378.20 481.59,377.97 482.82,377.69 484.05,377.36 485.25,376.96 486.35,376.51 487.30,376.00 488.12,375.43 488.88,374.80 489.56,374.11 490.19,373.37 490.78,372.57 491.31,371.70 491.82,370.78 492.30,369.80 492.74,368.73 493.14,367.55 493.49,366.30 493.80,364.99 494.08,363.67 494.34,362.34 494.58,361.04 494.80,359.80 495.00,358.54 495.18,357.21 495.33,355.85 495.46,354.53 495.56,353.28 495.66,352.15 495.73,351.21 495.80,350.50" fill="none" stroke="#f030f0" stroke-width="1.6" stroke-linejoin="round" stroke-linecap="round" />
<polyline points="389.30,290.50 495.80,350.50 495.80,385.00 389.30,350.40 389.30,290.50" fill="none" stroke="#33e6f0" stroke-width="1.8" stroke-linejoin="round" stroke-linecap="round" />
<line x1="462.90" y1="291.00" x2="473.00" y2="291.00" stroke="#33e6f0" stroke-width="2.1" />
<text x="475.40" y="293.40" font-family='"Liberation Sans", sans-serif' font-size="6.6" font-weight="normal" font-style="normal" fill="#333" text-anchor="start" stroke="#333" stroke-width="0.18" >Infinite</text>
<line x1="462.90" y1="299.05" x2="473.00" y2="299.05" stroke="#f030f0" stroke-width="2.1" />
<text x="475.40" y="301.45" font-family='"Liberation Sans", sans-serif' font-size="6.6" font-weight="normal" font-style="normal" fill="#333" text-anchor="start" stroke="#333" stroke-width="0.18" >250 MΩ</text>
<line x1="462.90" y1="307.10" x2="473.00" y2="307.10" stroke="#ff2a2a" stroke-width="2.1" />
<text x="475.40" y="309.50" font-family='"Liberation Sans", sans-serif' font-size="6.6" font-weight="normal" font-style="normal" fill="#333" text-anchor="start" stroke="#333" stroke-width="0.18" >100 MΩ</text>
<line x1="462.90" y1="315.15" x2="473.00" y2="315.15" stroke="#2a2aff" stroke-width="2.1" />
<text x="475.40" y="317.55" font-family='"Liberation Sans", sans-serif' font-size="6.6" font-weight="normal" font-style="normal" fill="#333" text-anchor="start" stroke="#333" stroke-width="0.18" >44 MΩ</text>
<line x1="462.90" y1="323.20" x2="473.00" y2="323.20" stroke="#33e033" stroke-width="2.1" />
<text x="475.40" y="325.60" font-family='"Liberation Sans", sans-serif' font-size="6.6" font-weight="normal" font-style="normal" fill="#333" text-anchor="start" stroke="#333" stroke-width="0.18" >4.4 MΩ</text>
<text x="394.60" y="290.60" font-family='"Liberation Sans", sans-serif' font-size="6.6" font-weight="normal" font-style="normal" fill="#333" text-anchor="start" stroke="#333" stroke-width="0.18" >(0, <tspan font-style="italic">V</tspan><tspan font-size="4.8" dy="1.5">OC,max</tspan><tspan dy="-1.5">)</tspan></text>
<text x="392.70" y="364.40" font-family='"Liberation Sans", sans-serif' font-size="6.6" font-weight="normal" font-style="normal" fill="#333" text-anchor="start" stroke="#333" stroke-width="0.18" >(0, 0)</text>
<text x="498.50" y="353.40" font-family='"Liberation Sans", sans-serif' font-size="6.6" font-weight="normal" font-style="normal" fill="#333" text-anchor="start" stroke="#333" stroke-width="0.18" >(<tspan font-style="italic">Q</tspan><tspan font-size="4.8" dy="1.5">SC,max</tspan><tspan dy="-1.5">,0)</tspan></text>
<text x="498.50" y="392.20" font-family='"Liberation Sans", sans-serif' font-size="6.6" font-weight="normal" font-style="normal" fill="#333" text-anchor="start" stroke="#333" stroke-width="0.18" >(<tspan font-style="italic">Q</tspan><tspan font-size="4.8" dy="1.5">SC,max</tspan><tspan dy="-1.5">,−</tspan><tspan font-style="italic">V</tspan><tspan dy="-2" font-size="4.8">*</tspan><tspan font-size="4.8" dy="3.5"> max</tspan><tspan dy="-1.5">)</tspan></text>
<text x="406.10" y="391.20" font-family='"Liberation Sans", sans-serif' font-size="6.6" font-weight="normal" font-style="normal" fill="#3535ff" text-anchor="start" stroke="#3535ff" stroke-width="0.18" >CMEO with various <tspan font-style="italic">R</tspan></text>
</svg>
</body></html>
